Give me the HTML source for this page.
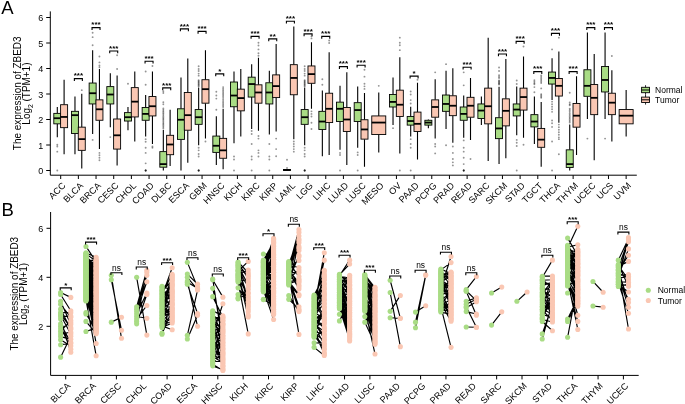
<!DOCTYPE html>
<html><head><meta charset="utf-8"><title>ZBED3 expression</title>
<style>
html,body{margin:0;padding:0;background:#fff;}
svg{display:block;}
text{font-family:"Liberation Sans",Arial,sans-serif;fill:#000;}
.b{font-weight:bold;}
</style></head><body>
<svg width="685" height="404" viewBox="0 0 685 404">
<rect width="685" height="404" fill="#fff"/>
<g id="panelA">
<circle cx="57.30" cy="144.75" r="0.95" fill="#000" fill-opacity="0.42"/><circle cx="57.30" cy="146.53" r="0.95" fill="#000" fill-opacity="0.42"/><circle cx="57.30" cy="151.63" r="0.95" fill="#000" fill-opacity="0.42"/><circle cx="57.30" cy="170.50" r="0.95" fill="#000" fill-opacity="0.42"/><path d="M57.30 107.00V113.38M57.30 123.84V137.35" stroke="#000" stroke-width="1.1" fill="none"/><rect x="53.80" y="113.38" width="7.00" height="10.46" fill="#A9DC85" stroke="#000" stroke-width="0.9"/><path d="M53.80 118.22H60.80" stroke="#000" stroke-width="1.8" fill="none"/>
<path d="M64.10 79.72V104.71M64.10 127.66V154.18" stroke="#000" stroke-width="1.1" fill="none"/><rect x="60.60" y="104.71" width="7.00" height="22.95" fill="#FAC7B3" stroke="#000" stroke-width="0.9"/><path d="M60.60 116.95H67.60" stroke="#000" stroke-width="1.8" fill="none"/>
<path d="M74.97 96.55V111.34M74.97 133.53V154.18" stroke="#000" stroke-width="1.1" fill="none"/><rect x="71.47" y="111.34" width="7.00" height="22.19" fill="#A9DC85" stroke="#000" stroke-width="0.9"/><path d="M71.47 115.16H78.47" stroke="#000" stroke-width="1.8" fill="none"/>
<circle cx="81.77" cy="90.17" r="0.95" fill="#000" fill-opacity="0.42"/><path d="M81.77 93.75V127.15M81.77 150.35V168.46" stroke="#000" stroke-width="1.1" fill="none"/><rect x="78.27" y="127.15" width="7.00" height="23.20" fill="#FAC7B3" stroke="#000" stroke-width="0.9"/><path d="M78.27 139.13H85.27" stroke="#000" stroke-width="1.8" fill="none"/>
<path d="M74.37 80.90V78.60H82.37V80.90" stroke="#000" stroke-width="1.1" fill="none"/>
<text x="78.37" y="78.40" text-anchor="middle" font-size="8" class="b">***</text>
<circle cx="92.64" cy="45.30" r="0.95" fill="#000" fill-opacity="0.42"/><circle cx="92.64" cy="37.13" r="0.95" fill="#000" fill-opacity="0.42"/><circle cx="92.64" cy="32.80" r="0.95" fill="#000" fill-opacity="0.42"/><circle cx="92.64" cy="139.90" r="0.95" fill="#000" fill-opacity="0.42"/><path d="M92.64 50.14V83.03M92.64 103.95V134.03" stroke="#000" stroke-width="1.1" fill="none"/><rect x="89.14" y="83.03" width="7.00" height="20.91" fill="#A9DC85" stroke="#000" stroke-width="0.9"/><path d="M89.14 93.23H96.14" stroke="#000" stroke-width="1.8" fill="none"/>
<circle cx="99.44" cy="56.52" r="0.95" fill="#000" fill-opacity="0.42"/><circle cx="99.44" cy="62.38" r="0.95" fill="#000" fill-opacity="0.42"/><circle cx="99.44" cy="65.44" r="0.95" fill="#000" fill-opacity="0.42"/><circle cx="99.44" cy="67.23" r="0.95" fill="#000" fill-opacity="0.42"/><circle cx="99.44" cy="152.91" r="0.95" fill="#000" fill-opacity="0.42"/><circle cx="99.44" cy="155.20" r="0.95" fill="#000" fill-opacity="0.42"/><circle cx="99.44" cy="157.75" r="0.95" fill="#000" fill-opacity="0.42"/><circle cx="99.44" cy="160.30" r="0.95" fill="#000" fill-opacity="0.42"/><path d="M99.44 69.01V99.86M99.44 120.27V149.08" stroke="#000" stroke-width="1.1" fill="none"/><rect x="95.94" y="99.86" width="7.00" height="20.40" fill="#FAC7B3" stroke="#000" stroke-width="0.9"/><path d="M95.94 109.30H102.94" stroke="#000" stroke-width="1.8" fill="none"/>
<path d="M92.04 29.90V27.60H100.04V29.90" stroke="#000" stroke-width="1.1" fill="none"/>
<text x="96.04" y="27.40" text-anchor="middle" font-size="8" class="b">***</text>
<circle cx="110.31" cy="137.09" r="0.95" fill="#000" fill-opacity="0.42"/><path d="M110.31 73.34V86.61M110.31 103.95V127.15" stroke="#000" stroke-width="1.1" fill="none"/><rect x="106.81" y="86.61" width="7.00" height="17.34" fill="#A9DC85" stroke="#000" stroke-width="0.9"/><path d="M106.81 94.51H113.81" stroke="#000" stroke-width="1.8" fill="none"/>
<circle cx="117.11" cy="69.01" r="0.95" fill="#000" fill-opacity="0.42"/><circle cx="117.11" cy="55.24" r="0.95" fill="#000" fill-opacity="0.42"/><path d="M117.11 75.39V118.99M117.11 149.08V165.40" stroke="#000" stroke-width="1.1" fill="none"/><rect x="113.61" y="118.99" width="7.00" height="30.09" fill="#FAC7B3" stroke="#000" stroke-width="0.9"/><path d="M113.61 135.31H120.61" stroke="#000" stroke-width="1.8" fill="none"/>
<path d="M109.71 53.30V51.00H117.71V53.30" stroke="#000" stroke-width="1.1" fill="none"/>
<text x="113.71" y="50.80" text-anchor="middle" font-size="8" class="b">***</text>
<circle cx="127.98" cy="83.80" r="0.95" fill="#000" fill-opacity="0.42"/><path d="M127.98 107.00V112.62M127.98 121.03V130.21" stroke="#000" stroke-width="1.1" fill="none"/><rect x="124.48" y="112.62" width="7.00" height="8.41" fill="#A9DC85" stroke="#000" stroke-width="0.9"/><path d="M124.48 117.21H131.48" stroke="#000" stroke-width="1.8" fill="none"/>
<path d="M134.78 71.56V87.62M134.78 116.95V141.43" stroke="#000" stroke-width="1.1" fill="none"/><rect x="131.28" y="87.62" width="7.00" height="29.32" fill="#FAC7B3" stroke="#000" stroke-width="0.9"/><path d="M131.28 101.65H138.28" stroke="#000" stroke-width="1.8" fill="none"/>
<circle cx="145.65" cy="71.56" r="0.95" fill="#000" fill-opacity="0.42"/><circle cx="145.65" cy="84.82" r="0.95" fill="#000" fill-opacity="0.42"/><circle cx="145.65" cy="139.13" r="0.95" fill="#000" fill-opacity="0.42"/><circle cx="145.65" cy="141.69" r="0.95" fill="#000" fill-opacity="0.42"/><circle cx="145.65" cy="147.81" r="0.95" fill="#000" fill-opacity="0.42"/><circle cx="145.65" cy="152.91" r="0.95" fill="#000" fill-opacity="0.42"/><circle cx="145.65" cy="163.36" r="0.95" fill="#000" fill-opacity="0.42"/><circle cx="145.65" cy="170.50" r="0.95" fill="#000" fill-opacity="0.42"/><circle cx="145.65" cy="170.50" r="0.95" fill="#000" fill-opacity="0.42"/><circle cx="145.65" cy="170.50" r="0.95" fill="#000" fill-opacity="0.42"/><circle cx="145.65" cy="170.50" r="0.95" fill="#000" fill-opacity="0.42"/><path d="M145.65 95.02V107.51M145.65 120.27V136.59" stroke="#000" stroke-width="1.1" fill="none"/><rect x="142.15" y="107.51" width="7.00" height="12.75" fill="#A9DC85" stroke="#000" stroke-width="0.9"/><path d="M142.15 113.89H149.15" stroke="#000" stroke-width="1.8" fill="none"/>
<circle cx="152.45" cy="65.95" r="0.95" fill="#000" fill-opacity="0.42"/><circle cx="152.45" cy="146.53" r="0.95" fill="#000" fill-opacity="0.42"/><circle cx="152.45" cy="147.81" r="0.95" fill="#000" fill-opacity="0.42"/><path d="M152.45 71.56V96.55M152.45 115.93V143.98" stroke="#000" stroke-width="1.1" fill="none"/><rect x="148.95" y="96.55" width="7.00" height="19.38" fill="#FAC7B3" stroke="#000" stroke-width="0.9"/><path d="M148.95 106.24H155.95" stroke="#000" stroke-width="1.8" fill="none"/>
<path d="M145.05 63.60V61.30H153.05V63.60" stroke="#000" stroke-width="1.1" fill="none"/>
<text x="149.05" y="61.10" text-anchor="middle" font-size="8" class="b">***</text>
<circle cx="163.32" cy="128.17" r="0.95" fill="#000" fill-opacity="0.42"/><circle cx="163.32" cy="126.86" r="0.95" fill="#000" fill-opacity="0.42"/><circle cx="163.32" cy="125.55" r="0.95" fill="#000" fill-opacity="0.42"/><circle cx="163.32" cy="124.24" r="0.95" fill="#000" fill-opacity="0.42"/><circle cx="163.32" cy="122.93" r="0.95" fill="#000" fill-opacity="0.42"/><circle cx="163.32" cy="121.62" r="0.95" fill="#000" fill-opacity="0.42"/><circle cx="163.32" cy="120.32" r="0.95" fill="#000" fill-opacity="0.42"/><circle cx="163.32" cy="119.01" r="0.95" fill="#000" fill-opacity="0.42"/><circle cx="163.32" cy="117.70" r="0.95" fill="#000" fill-opacity="0.42"/><circle cx="163.32" cy="116.39" r="0.95" fill="#000" fill-opacity="0.42"/><circle cx="163.32" cy="115.08" r="0.95" fill="#000" fill-opacity="0.42"/><circle cx="163.32" cy="113.77" r="0.95" fill="#000" fill-opacity="0.42"/><circle cx="163.32" cy="112.46" r="0.95" fill="#000" fill-opacity="0.42"/><circle cx="163.32" cy="111.15" r="0.95" fill="#000" fill-opacity="0.42"/><circle cx="163.32" cy="109.84" r="0.95" fill="#000" fill-opacity="0.42"/><circle cx="163.32" cy="108.53" r="0.95" fill="#000" fill-opacity="0.42"/><circle cx="163.32" cy="104.20" r="0.95" fill="#000" fill-opacity="0.42"/><circle cx="163.32" cy="102.16" r="0.95" fill="#000" fill-opacity="0.42"/><circle cx="163.32" cy="92.98" r="0.95" fill="#000" fill-opacity="0.42"/><circle cx="163.32" cy="91.20" r="0.95" fill="#000" fill-opacity="0.42"/><path d="M163.32 129.70V151.63M163.32 167.19V170.50" stroke="#000" stroke-width="1.1" fill="none"/><rect x="159.82" y="151.63" width="7.00" height="15.56" fill="#A9DC85" stroke="#000" stroke-width="0.9"/><path d="M159.82 164.12H166.82" stroke="#000" stroke-width="1.8" fill="none"/>
<path d="M170.12 109.81V135.31M170.12 154.69V165.91" stroke="#000" stroke-width="1.1" fill="none"/><rect x="166.62" y="135.31" width="7.00" height="19.38" fill="#FAC7B3" stroke="#000" stroke-width="0.9"/><path d="M166.62 144.49H173.62" stroke="#000" stroke-width="1.8" fill="none"/>
<path d="M162.72 90.20V87.90H170.72V90.20" stroke="#000" stroke-width="1.1" fill="none"/>
<text x="166.72" y="87.70" text-anchor="middle" font-size="8" class="b">***</text>
<path d="M180.99 77.42V108.79M180.99 139.39V170.50" stroke="#000" stroke-width="1.1" fill="none"/><rect x="177.49" y="108.79" width="7.00" height="30.60" fill="#A9DC85" stroke="#000" stroke-width="0.9"/><path d="M177.49 119.75H184.49" stroke="#000" stroke-width="1.8" fill="none"/>
<path d="M187.79 58.56V92.47M187.79 130.21V162.85" stroke="#000" stroke-width="1.1" fill="none"/><rect x="184.29" y="92.47" width="7.00" height="37.74" fill="#FAC7B3" stroke="#000" stroke-width="0.9"/><path d="M184.29 115.16H191.29" stroke="#000" stroke-width="1.8" fill="none"/>
<path d="M180.39 31.20V28.90H188.39V31.20" stroke="#000" stroke-width="1.1" fill="none"/>
<text x="184.39" y="28.70" text-anchor="middle" font-size="8" class="b">***</text>
<circle cx="198.66" cy="86.35" r="0.95" fill="#000" fill-opacity="0.42"/><circle cx="198.66" cy="85.48" r="0.95" fill="#000" fill-opacity="0.42"/><circle cx="198.66" cy="84.60" r="0.95" fill="#000" fill-opacity="0.42"/><circle cx="198.66" cy="83.73" r="0.95" fill="#000" fill-opacity="0.42"/><circle cx="198.66" cy="82.85" r="0.95" fill="#000" fill-opacity="0.42"/><circle cx="198.66" cy="81.98" r="0.95" fill="#000" fill-opacity="0.42"/><circle cx="198.66" cy="81.10" r="0.95" fill="#000" fill-opacity="0.42"/><circle cx="198.66" cy="80.23" r="0.95" fill="#000" fill-opacity="0.42"/><circle cx="198.66" cy="75.64" r="0.95" fill="#000" fill-opacity="0.42"/><circle cx="198.66" cy="73.60" r="0.95" fill="#000" fill-opacity="0.42"/><circle cx="198.66" cy="71.05" r="0.95" fill="#000" fill-opacity="0.42"/><circle cx="198.66" cy="69.01" r="0.95" fill="#000" fill-opacity="0.42"/><circle cx="198.66" cy="66.20" r="0.95" fill="#000" fill-opacity="0.42"/><circle cx="198.66" cy="147.81" r="0.95" fill="#000" fill-opacity="0.42"/><circle cx="198.66" cy="150.35" r="0.95" fill="#000" fill-opacity="0.42"/><circle cx="198.66" cy="153.93" r="0.95" fill="#000" fill-opacity="0.42"/><circle cx="198.66" cy="156.47" r="0.95" fill="#000" fill-opacity="0.42"/><circle cx="198.66" cy="170.50" r="0.95" fill="#000" fill-opacity="0.42"/><circle cx="198.66" cy="170.50" r="0.95" fill="#000" fill-opacity="0.42"/><circle cx="198.66" cy="170.50" r="0.95" fill="#000" fill-opacity="0.42"/><circle cx="198.66" cy="170.50" r="0.95" fill="#000" fill-opacity="0.42"/><path d="M198.66 87.62V109.56M198.66 124.34V145.25" stroke="#000" stroke-width="1.1" fill="none"/><rect x="195.16" y="109.56" width="7.00" height="14.79" fill="#A9DC85" stroke="#000" stroke-width="0.9"/><path d="M195.16 117.21H202.16" stroke="#000" stroke-width="1.8" fill="none"/>
<circle cx="205.46" cy="141.43" r="0.95" fill="#000" fill-opacity="0.42"/><path d="M205.46 50.14V79.72M205.46 103.18V138.62" stroke="#000" stroke-width="1.1" fill="none"/><rect x="201.96" y="79.72" width="7.00" height="23.46" fill="#FAC7B3" stroke="#000" stroke-width="0.9"/><path d="M201.96 89.16H208.96" stroke="#000" stroke-width="1.8" fill="none"/>
<path d="M198.06 33.70V31.40H206.06V33.70" stroke="#000" stroke-width="1.1" fill="none"/>
<text x="202.06" y="31.20" text-anchor="middle" font-size="8" class="b">***</text>
<circle cx="216.33" cy="109.81" r="0.95" fill="#000" fill-opacity="0.42"/><circle cx="216.33" cy="98.59" r="0.95" fill="#000" fill-opacity="0.42"/><circle cx="216.33" cy="95.53" r="0.95" fill="#000" fill-opacity="0.42"/><circle cx="216.33" cy="91.70" r="0.95" fill="#000" fill-opacity="0.42"/><path d="M216.33 116.19V136.07M216.33 152.40V164.89" stroke="#000" stroke-width="1.1" fill="none"/><rect x="212.83" y="136.07" width="7.00" height="16.32" fill="#A9DC85" stroke="#000" stroke-width="0.9"/><path d="M212.83 145.76H219.83" stroke="#000" stroke-width="1.8" fill="none"/>
<circle cx="223.13" cy="107.00" r="0.95" fill="#000" fill-opacity="0.42"/><circle cx="223.13" cy="105.47" r="0.95" fill="#000" fill-opacity="0.42"/><circle cx="223.13" cy="103.94" r="0.95" fill="#000" fill-opacity="0.42"/><circle cx="223.13" cy="102.41" r="0.95" fill="#000" fill-opacity="0.42"/><circle cx="223.13" cy="100.89" r="0.95" fill="#000" fill-opacity="0.42"/><circle cx="223.13" cy="99.36" r="0.95" fill="#000" fill-opacity="0.42"/><circle cx="223.13" cy="97.83" r="0.95" fill="#000" fill-opacity="0.42"/><circle cx="223.13" cy="96.30" r="0.95" fill="#000" fill-opacity="0.42"/><circle cx="223.13" cy="94.77" r="0.95" fill="#000" fill-opacity="0.42"/><circle cx="223.13" cy="93.23" r="0.95" fill="#000" fill-opacity="0.42"/><circle cx="223.13" cy="91.70" r="0.95" fill="#000" fill-opacity="0.42"/><circle cx="223.13" cy="90.17" r="0.95" fill="#000" fill-opacity="0.42"/><circle cx="223.13" cy="88.64" r="0.95" fill="#000" fill-opacity="0.42"/><circle cx="223.13" cy="87.11" r="0.95" fill="#000" fill-opacity="0.42"/><path d="M223.13 108.79V138.37M223.13 158.26V169.22" stroke="#000" stroke-width="1.1" fill="none"/><rect x="219.63" y="138.37" width="7.00" height="19.89" fill="#FAC7B3" stroke="#000" stroke-width="0.9"/><path d="M219.63 150.35H226.63" stroke="#000" stroke-width="1.8" fill="none"/>
<path d="M215.73 76.20V73.90H223.73V76.20" stroke="#000" stroke-width="1.1" fill="none"/>
<text x="219.73" y="73.70" text-anchor="middle" font-size="8" class="b">*</text>
<circle cx="234.00" cy="156.47" r="0.95" fill="#000" fill-opacity="0.42"/><circle cx="234.00" cy="159.53" r="0.95" fill="#000" fill-opacity="0.42"/><circle cx="234.00" cy="170.50" r="0.95" fill="#000" fill-opacity="0.42"/><path d="M234.00 71.56V82.02M234.00 106.75V143.22" stroke="#000" stroke-width="1.1" fill="none"/><rect x="230.50" y="82.02" width="7.00" height="24.73" fill="#A9DC85" stroke="#000" stroke-width="0.9"/><path d="M230.50 95.53H237.50" stroke="#000" stroke-width="1.8" fill="none"/>
<path d="M240.80 69.01V89.16M240.80 110.83V136.59" stroke="#000" stroke-width="1.1" fill="none"/><rect x="237.30" y="89.16" width="7.00" height="21.68" fill="#FAC7B3" stroke="#000" stroke-width="0.9"/><path d="M237.30 98.08H244.30" stroke="#000" stroke-width="1.8" fill="none"/>
<circle cx="251.67" cy="130.97" r="0.95" fill="#000" fill-opacity="0.42"/><circle cx="251.67" cy="134.03" r="0.95" fill="#000" fill-opacity="0.42"/><circle cx="251.67" cy="143.98" r="0.95" fill="#000" fill-opacity="0.42"/><circle cx="251.67" cy="156.47" r="0.95" fill="#000" fill-opacity="0.42"/><circle cx="251.67" cy="159.53" r="0.95" fill="#000" fill-opacity="0.42"/><circle cx="251.67" cy="170.50" r="0.95" fill="#000" fill-opacity="0.42"/><path d="M251.67 64.17V77.17M251.67 97.06V128.94" stroke="#000" stroke-width="1.1" fill="none"/><rect x="248.17" y="77.17" width="7.00" height="19.89" fill="#A9DC85" stroke="#000" stroke-width="0.9"/><path d="M248.17 84.05H255.17" stroke="#000" stroke-width="1.8" fill="none"/>
<circle cx="258.47" cy="42.75" r="0.95" fill="#000" fill-opacity="0.42"/><circle cx="258.47" cy="45.55" r="0.95" fill="#000" fill-opacity="0.42"/><circle cx="258.47" cy="49.38" r="0.95" fill="#000" fill-opacity="0.42"/><circle cx="258.47" cy="53.20" r="0.95" fill="#000" fill-opacity="0.42"/><circle cx="258.47" cy="55.75" r="0.95" fill="#000" fill-opacity="0.42"/><circle cx="258.47" cy="136.07" r="0.95" fill="#000" fill-opacity="0.42"/><circle cx="258.47" cy="138.62" r="0.95" fill="#000" fill-opacity="0.42"/><circle cx="258.47" cy="150.35" r="0.95" fill="#000" fill-opacity="0.42"/><circle cx="258.47" cy="152.91" r="0.95" fill="#000" fill-opacity="0.42"/><circle cx="258.47" cy="156.47" r="0.95" fill="#000" fill-opacity="0.42"/><path d="M258.47 57.79V84.82M258.47 103.18V130.72" stroke="#000" stroke-width="1.1" fill="none"/><rect x="254.97" y="84.82" width="7.00" height="18.36" fill="#FAC7B3" stroke="#000" stroke-width="0.9"/><path d="M254.97 92.47H261.97" stroke="#000" stroke-width="1.8" fill="none"/>
<path d="M251.07 38.70V36.40H259.07V38.70" stroke="#000" stroke-width="1.1" fill="none"/>
<text x="255.07" y="36.20" text-anchor="middle" font-size="8" class="b">***</text>
<circle cx="269.34" cy="143.98" r="0.95" fill="#000" fill-opacity="0.42"/><circle cx="269.34" cy="156.47" r="0.95" fill="#000" fill-opacity="0.42"/><circle cx="269.34" cy="159.53" r="0.95" fill="#000" fill-opacity="0.42"/><circle cx="269.34" cy="170.50" r="0.95" fill="#000" fill-opacity="0.42"/><path d="M269.34 70.80V82.78M269.34 103.95V134.55" stroke="#000" stroke-width="1.1" fill="none"/><rect x="265.84" y="82.78" width="7.00" height="21.17" fill="#A9DC85" stroke="#000" stroke-width="0.9"/><path d="M265.84 92.47H272.84" stroke="#000" stroke-width="1.8" fill="none"/>
<circle cx="276.14" cy="138.62" r="0.95" fill="#000" fill-opacity="0.42"/><circle cx="276.14" cy="149.08" r="0.95" fill="#000" fill-opacity="0.42"/><circle cx="276.14" cy="156.22" r="0.95" fill="#000" fill-opacity="0.42"/><path d="M276.14 44.02V74.88M276.14 97.57V131.49" stroke="#000" stroke-width="1.1" fill="none"/><rect x="272.64" y="74.88" width="7.00" height="22.70" fill="#FAC7B3" stroke="#000" stroke-width="0.9"/><path d="M272.64 86.09H279.64" stroke="#000" stroke-width="1.8" fill="none"/>
<path d="M268.74 41.20V38.90H276.74V41.20" stroke="#000" stroke-width="1.1" fill="none"/>
<text x="272.74" y="38.70" text-anchor="middle" font-size="8" class="b">**</text>
<circle cx="287.01" cy="159.79" r="0.95" fill="#000" fill-opacity="0.42"/><circle cx="287.01" cy="167.95" r="0.95" fill="#000" fill-opacity="0.42"/><path d="M287.01 169.22V169.48M287.01 170.50V170.50" stroke="#000" stroke-width="1.1" fill="none"/><rect x="283.51" y="169.48" width="7.00" height="1.02" fill="#A9DC85" stroke="#000" stroke-width="0.9"/><path d="M283.51 169.99H290.51" stroke="#000" stroke-width="1.8" fill="none"/>
<circle cx="293.81" cy="141.43" r="0.95" fill="#000" fill-opacity="0.42"/><circle cx="293.81" cy="143.98" r="0.95" fill="#000" fill-opacity="0.42"/><circle cx="293.81" cy="146.53" r="0.95" fill="#000" fill-opacity="0.42"/><circle cx="293.81" cy="149.08" r="0.95" fill="#000" fill-opacity="0.42"/><circle cx="293.81" cy="151.63" r="0.95" fill="#000" fill-opacity="0.42"/><path d="M293.81 26.42V64.67M293.81 94.77V139.13" stroke="#000" stroke-width="1.1" fill="none"/><rect x="290.31" y="64.67" width="7.00" height="30.09" fill="#FAC7B3" stroke="#000" stroke-width="0.9"/><path d="M290.31 77.94H297.31" stroke="#000" stroke-width="1.8" fill="none"/>
<path d="M286.41 23.60V21.30H294.41V23.60" stroke="#000" stroke-width="1.1" fill="none"/>
<text x="290.41" y="21.10" text-anchor="middle" font-size="8" class="b">***</text>
<circle cx="304.68" cy="86.35" r="0.95" fill="#000" fill-opacity="0.42"/><circle cx="304.68" cy="85.48" r="0.95" fill="#000" fill-opacity="0.42"/><circle cx="304.68" cy="84.60" r="0.95" fill="#000" fill-opacity="0.42"/><circle cx="304.68" cy="83.73" r="0.95" fill="#000" fill-opacity="0.42"/><circle cx="304.68" cy="82.85" r="0.95" fill="#000" fill-opacity="0.42"/><circle cx="304.68" cy="81.98" r="0.95" fill="#000" fill-opacity="0.42"/><circle cx="304.68" cy="81.10" r="0.95" fill="#000" fill-opacity="0.42"/><circle cx="304.68" cy="80.23" r="0.95" fill="#000" fill-opacity="0.42"/><circle cx="304.68" cy="75.64" r="0.95" fill="#000" fill-opacity="0.42"/><circle cx="304.68" cy="73.60" r="0.95" fill="#000" fill-opacity="0.42"/><circle cx="304.68" cy="71.05" r="0.95" fill="#000" fill-opacity="0.42"/><circle cx="304.68" cy="69.01" r="0.95" fill="#000" fill-opacity="0.42"/><circle cx="304.68" cy="66.20" r="0.95" fill="#000" fill-opacity="0.42"/><circle cx="304.68" cy="147.81" r="0.95" fill="#000" fill-opacity="0.42"/><circle cx="304.68" cy="150.35" r="0.95" fill="#000" fill-opacity="0.42"/><circle cx="304.68" cy="153.93" r="0.95" fill="#000" fill-opacity="0.42"/><circle cx="304.68" cy="156.47" r="0.95" fill="#000" fill-opacity="0.42"/><circle cx="304.68" cy="170.50" r="0.95" fill="#000" fill-opacity="0.42"/><circle cx="304.68" cy="170.50" r="0.95" fill="#000" fill-opacity="0.42"/><circle cx="304.68" cy="170.50" r="0.95" fill="#000" fill-opacity="0.42"/><circle cx="304.68" cy="170.50" r="0.95" fill="#000" fill-opacity="0.42"/><path d="M304.68 87.62V109.56M304.68 124.34V145.25" stroke="#000" stroke-width="1.1" fill="none"/><rect x="301.18" y="109.56" width="7.00" height="14.79" fill="#A9DC85" stroke="#000" stroke-width="0.9"/><path d="M301.18 117.21H308.18" stroke="#000" stroke-width="1.8" fill="none"/>
<circle cx="311.48" cy="36.37" r="0.95" fill="#000" fill-opacity="0.42"/><circle cx="311.48" cy="38.41" r="0.95" fill="#000" fill-opacity="0.42"/><circle cx="311.48" cy="111.34" r="0.95" fill="#000" fill-opacity="0.42"/><circle cx="311.48" cy="113.89" r="0.95" fill="#000" fill-opacity="0.42"/><circle cx="311.48" cy="116.44" r="0.95" fill="#000" fill-opacity="0.42"/><circle cx="311.48" cy="122.81" r="0.95" fill="#000" fill-opacity="0.42"/><circle cx="311.48" cy="128.94" r="0.95" fill="#000" fill-opacity="0.42"/><path d="M311.48 42.23V65.95M311.48 83.29V108.79" stroke="#000" stroke-width="1.1" fill="none"/><rect x="307.98" y="65.95" width="7.00" height="17.34" fill="#FAC7B3" stroke="#000" stroke-width="0.9"/><path d="M307.98 74.11H314.98" stroke="#000" stroke-width="1.8" fill="none"/>
<path d="M304.08 36.20V33.90H312.08V36.20" stroke="#000" stroke-width="1.1" fill="none"/>
<text x="308.08" y="33.70" text-anchor="middle" font-size="8" class="b">***</text>
<circle cx="322.35" cy="79.21" r="0.95" fill="#000" fill-opacity="0.42"/><circle cx="322.35" cy="84.82" r="0.95" fill="#000" fill-opacity="0.42"/><path d="M322.35 90.43V111.34M322.35 129.44V156.22" stroke="#000" stroke-width="1.1" fill="none"/><rect x="318.85" y="111.34" width="7.00" height="18.10" fill="#A9DC85" stroke="#000" stroke-width="0.9"/><path d="M318.85 121.54H325.85" stroke="#000" stroke-width="1.8" fill="none"/>
<circle cx="329.15" cy="40.45" r="0.95" fill="#000" fill-opacity="0.42"/><circle cx="329.15" cy="43.00" r="0.95" fill="#000" fill-opacity="0.42"/><path d="M329.15 52.18V93.23M329.15 122.56V154.94" stroke="#000" stroke-width="1.1" fill="none"/><rect x="325.65" y="93.23" width="7.00" height="29.33" fill="#FAC7B3" stroke="#000" stroke-width="0.9"/><path d="M325.65 108.79H332.65" stroke="#000" stroke-width="1.8" fill="none"/>
<path d="M321.75 38.70V36.40H329.75V38.70" stroke="#000" stroke-width="1.1" fill="none"/>
<text x="325.75" y="36.20" text-anchor="middle" font-size="8" class="b">***</text>
<circle cx="340.02" cy="152.91" r="0.95" fill="#000" fill-opacity="0.42"/><circle cx="340.02" cy="154.94" r="0.95" fill="#000" fill-opacity="0.42"/><circle cx="340.02" cy="170.50" r="0.95" fill="#000" fill-opacity="0.42"/><path d="M340.02 85.84V102.16M340.02 121.54V149.84" stroke="#000" stroke-width="1.1" fill="none"/><rect x="336.52" y="102.16" width="7.00" height="19.38" fill="#A9DC85" stroke="#000" stroke-width="0.9"/><path d="M336.52 108.79H343.52" stroke="#000" stroke-width="1.8" fill="none"/>
<path d="M346.82 72.33V107.51M346.82 131.49V164.89" stroke="#000" stroke-width="1.1" fill="none"/><rect x="343.32" y="107.51" width="7.00" height="23.97" fill="#FAC7B3" stroke="#000" stroke-width="0.9"/><path d="M343.32 119.50H350.32" stroke="#000" stroke-width="1.8" fill="none"/>
<path d="M339.42 68.90V66.60H347.42V68.90" stroke="#000" stroke-width="1.1" fill="none"/>
<text x="343.42" y="66.40" text-anchor="middle" font-size="8" class="b">***</text>
<circle cx="357.69" cy="152.40" r="0.95" fill="#000" fill-opacity="0.42"/><circle cx="357.69" cy="154.94" r="0.95" fill="#000" fill-opacity="0.42"/><circle cx="357.69" cy="170.50" r="0.95" fill="#000" fill-opacity="0.42"/><path d="M357.69 86.61V102.67M357.69 121.54V147.81" stroke="#000" stroke-width="1.1" fill="none"/><rect x="354.19" y="102.67" width="7.00" height="18.87" fill="#A9DC85" stroke="#000" stroke-width="0.9"/><path d="M354.19 110.06H361.19" stroke="#000" stroke-width="1.8" fill="none"/>
<circle cx="364.49" cy="69.77" r="0.95" fill="#000" fill-opacity="0.42"/><circle cx="364.49" cy="76.66" r="0.95" fill="#000" fill-opacity="0.42"/><circle cx="364.49" cy="83.80" r="0.95" fill="#000" fill-opacity="0.42"/><circle cx="364.49" cy="86.35" r="0.95" fill="#000" fill-opacity="0.42"/><circle cx="364.49" cy="88.90" r="0.95" fill="#000" fill-opacity="0.42"/><path d="M364.49 92.98V119.75M364.49 139.13V166.68" stroke="#000" stroke-width="1.1" fill="none"/><rect x="360.99" y="119.75" width="7.00" height="19.38" fill="#FAC7B3" stroke="#000" stroke-width="0.9"/><path d="M360.99 129.44H367.99" stroke="#000" stroke-width="1.8" fill="none"/>
<path d="M357.09 67.60V65.30H365.09V67.60" stroke="#000" stroke-width="1.1" fill="none"/>
<text x="361.09" y="65.10" text-anchor="middle" font-size="8" class="b">***</text>
<circle cx="378.76" cy="85.84" r="0.95" fill="#000" fill-opacity="0.42"/><path d="M378.76 92.47V115.93M378.76 134.55V152.40" stroke="#000" stroke-width="1.1" fill="none"/><rect x="371.76" y="115.93" width="14.00" height="18.62" fill="#FAC7B3" stroke="#000" stroke-width="0.9"/><path d="M371.76 122.56H385.76" stroke="#000" stroke-width="1.8" fill="none"/>
<circle cx="393.03" cy="128.17" r="0.95" fill="#000" fill-opacity="0.42"/><path d="M393.03 77.42V94.51M393.03 107.00V125.11" stroke="#000" stroke-width="1.1" fill="none"/><rect x="389.53" y="94.51" width="7.00" height="12.49" fill="#A9DC85" stroke="#000" stroke-width="0.9"/><path d="M389.53 101.91H396.53" stroke="#000" stroke-width="1.8" fill="none"/>
<circle cx="399.83" cy="37.65" r="0.95" fill="#000" fill-opacity="0.42"/><circle cx="399.83" cy="42.75" r="0.95" fill="#000" fill-opacity="0.42"/><circle cx="399.83" cy="45.30" r="0.95" fill="#000" fill-opacity="0.42"/><circle cx="399.83" cy="50.14" r="0.95" fill="#000" fill-opacity="0.42"/><circle cx="399.83" cy="170.50" r="0.95" fill="#000" fill-opacity="0.42"/><path d="M399.83 57.28V90.17M399.83 116.44V153.41" stroke="#000" stroke-width="1.1" fill="none"/><rect x="396.33" y="90.17" width="7.00" height="26.27" fill="#FAC7B3" stroke="#000" stroke-width="0.9"/><path d="M396.33 104.71H403.33" stroke="#000" stroke-width="1.8" fill="none"/>
<circle cx="410.70" cy="91.45" r="0.95" fill="#000" fill-opacity="0.42"/><circle cx="410.70" cy="94.51" r="0.95" fill="#000" fill-opacity="0.42"/><circle cx="410.70" cy="100.12" r="0.95" fill="#000" fill-opacity="0.42"/><circle cx="410.70" cy="103.44" r="0.95" fill="#000" fill-opacity="0.42"/><circle cx="410.70" cy="139.13" r="0.95" fill="#000" fill-opacity="0.42"/><circle cx="410.70" cy="143.98" r="0.95" fill="#000" fill-opacity="0.42"/><circle cx="410.70" cy="147.81" r="0.95" fill="#000" fill-opacity="0.42"/><circle cx="410.70" cy="170.50" r="0.95" fill="#000" fill-opacity="0.42"/><path d="M410.70 106.75V116.44M410.70 125.11V136.59" stroke="#000" stroke-width="1.1" fill="none"/><rect x="407.20" y="116.44" width="7.00" height="8.67" fill="#A9DC85" stroke="#000" stroke-width="0.9"/><path d="M407.20 121.03H414.20" stroke="#000" stroke-width="1.8" fill="none"/>
<circle cx="417.50" cy="79.72" r="0.95" fill="#000" fill-opacity="0.42"/><path d="M417.50 82.78V112.10M417.50 131.49V159.53" stroke="#000" stroke-width="1.1" fill="none"/><rect x="414.00" y="112.10" width="7.00" height="19.38" fill="#FAC7B3" stroke="#000" stroke-width="0.9"/><path d="M414.00 123.84H421.00" stroke="#000" stroke-width="1.8" fill="none"/>
<path d="M410.10 78.40V76.10H418.10V78.40" stroke="#000" stroke-width="1.1" fill="none"/>
<text x="414.10" y="75.90" text-anchor="middle" font-size="8" class="b">*</text>
<path d="M428.37 119.50V120.27M428.37 125.11V128.17" stroke="#000" stroke-width="1.1" fill="none"/><rect x="424.87" y="120.27" width="7.00" height="4.84" fill="#A9DC85" stroke="#000" stroke-width="0.9"/><path d="M424.87 122.56H431.87" stroke="#000" stroke-width="1.8" fill="none"/>
<circle cx="435.17" cy="72.33" r="0.95" fill="#000" fill-opacity="0.42"/><circle cx="435.17" cy="143.98" r="0.95" fill="#000" fill-opacity="0.42"/><circle cx="435.17" cy="146.53" r="0.95" fill="#000" fill-opacity="0.42"/><circle cx="435.17" cy="153.41" r="0.95" fill="#000" fill-opacity="0.42"/><path d="M435.17 79.21V99.86M435.17 117.21V138.62" stroke="#000" stroke-width="1.1" fill="none"/><rect x="431.67" y="99.86" width="7.00" height="17.34" fill="#FAC7B3" stroke="#000" stroke-width="0.9"/><path d="M431.67 107.00H438.67" stroke="#000" stroke-width="1.8" fill="none"/>
<circle cx="446.04" cy="64.17" r="0.95" fill="#000" fill-opacity="0.42"/><circle cx="446.04" cy="145.25" r="0.95" fill="#000" fill-opacity="0.42"/><path d="M446.04 70.80V95.02M446.04 111.34V128.94" stroke="#000" stroke-width="1.1" fill="none"/><rect x="442.54" y="95.02" width="7.00" height="16.32" fill="#A9DC85" stroke="#000" stroke-width="0.9"/><path d="M442.54 103.95H449.54" stroke="#000" stroke-width="1.8" fill="none"/>
<circle cx="452.84" cy="146.53" r="0.95" fill="#000" fill-opacity="0.42"/><circle cx="452.84" cy="152.91" r="0.95" fill="#000" fill-opacity="0.42"/><circle cx="452.84" cy="159.03" r="0.95" fill="#000" fill-opacity="0.42"/><circle cx="452.84" cy="162.34" r="0.95" fill="#000" fill-opacity="0.42"/><circle cx="452.84" cy="165.40" r="0.95" fill="#000" fill-opacity="0.42"/><path d="M452.84 68.25V95.78M452.84 115.68V142.70" stroke="#000" stroke-width="1.1" fill="none"/><rect x="449.34" y="95.78" width="7.00" height="19.89" fill="#FAC7B3" stroke="#000" stroke-width="0.9"/><path d="M449.34 105.73H456.34" stroke="#000" stroke-width="1.8" fill="none"/>
<circle cx="463.71" cy="72.33" r="0.95" fill="#000" fill-opacity="0.42"/><circle cx="463.71" cy="85.33" r="0.95" fill="#000" fill-opacity="0.42"/><circle cx="463.71" cy="140.41" r="0.95" fill="#000" fill-opacity="0.42"/><circle cx="463.71" cy="147.81" r="0.95" fill="#000" fill-opacity="0.42"/><circle cx="463.71" cy="151.63" r="0.95" fill="#000" fill-opacity="0.42"/><circle cx="463.71" cy="157.75" r="0.95" fill="#000" fill-opacity="0.42"/><circle cx="463.71" cy="164.12" r="0.95" fill="#000" fill-opacity="0.42"/><circle cx="463.71" cy="170.50" r="0.95" fill="#000" fill-opacity="0.42"/><circle cx="463.71" cy="170.50" r="0.95" fill="#000" fill-opacity="0.42"/><circle cx="463.71" cy="170.50" r="0.95" fill="#000" fill-opacity="0.42"/><circle cx="463.71" cy="170.50" r="0.95" fill="#000" fill-opacity="0.42"/><path d="M463.71 95.53V107.00M463.71 120.27V137.86" stroke="#000" stroke-width="1.1" fill="none"/><rect x="460.21" y="107.00" width="7.00" height="13.26" fill="#A9DC85" stroke="#000" stroke-width="0.9"/><path d="M460.21 113.89H467.21" stroke="#000" stroke-width="1.8" fill="none"/>
<circle cx="470.51" cy="159.03" r="0.95" fill="#000" fill-opacity="0.42"/><path d="M470.51 77.94V97.31M470.51 117.21V139.90" stroke="#000" stroke-width="1.1" fill="none"/><rect x="467.01" y="97.31" width="7.00" height="19.89" fill="#FAC7B3" stroke="#000" stroke-width="0.9"/><path d="M467.01 105.73H474.01" stroke="#000" stroke-width="1.8" fill="none"/>
<path d="M463.11 69.60V67.30H471.11V69.60" stroke="#000" stroke-width="1.1" fill="none"/>
<text x="467.11" y="67.10" text-anchor="middle" font-size="8" class="b">***</text>
<path d="M481.38 96.55V103.95M481.38 118.48V125.11" stroke="#000" stroke-width="1.1" fill="none"/><rect x="477.88" y="103.95" width="7.00" height="14.53" fill="#A9DC85" stroke="#000" stroke-width="0.9"/><path d="M477.88 110.57H484.88" stroke="#000" stroke-width="1.8" fill="none"/>
<path d="M488.18 37.65V88.14M488.18 123.84V161.06" stroke="#000" stroke-width="1.1" fill="none"/><rect x="484.68" y="88.14" width="7.00" height="35.70" fill="#FAC7B3" stroke="#000" stroke-width="0.9"/><path d="M484.68 106.24H491.68" stroke="#000" stroke-width="1.8" fill="none"/>
<circle cx="499.05" cy="67.48" r="0.95" fill="#000" fill-opacity="0.42"/><circle cx="499.05" cy="71.05" r="0.95" fill="#000" fill-opacity="0.42"/><circle cx="499.05" cy="75.13" r="0.95" fill="#000" fill-opacity="0.42"/><circle cx="499.05" cy="76.66" r="0.95" fill="#000" fill-opacity="0.42"/><circle cx="499.05" cy="77.94" r="0.95" fill="#000" fill-opacity="0.42"/><circle cx="499.05" cy="84.56" r="0.95" fill="#000" fill-opacity="0.42"/><circle cx="499.05" cy="83.75" r="0.95" fill="#000" fill-opacity="0.42"/><circle cx="499.05" cy="82.93" r="0.95" fill="#000" fill-opacity="0.42"/><circle cx="499.05" cy="82.12" r="0.95" fill="#000" fill-opacity="0.42"/><circle cx="499.05" cy="81.30" r="0.95" fill="#000" fill-opacity="0.42"/><circle cx="499.05" cy="80.48" r="0.95" fill="#000" fill-opacity="0.42"/><path d="M499.05 86.86V117.72M499.05 138.62V164.12" stroke="#000" stroke-width="1.1" fill="none"/><rect x="495.55" y="117.72" width="7.00" height="20.91" fill="#A9DC85" stroke="#000" stroke-width="0.9"/><path d="M495.55 128.43H502.55" stroke="#000" stroke-width="1.8" fill="none"/>
<path d="M505.85 59.06V98.84M505.85 125.88V158.26" stroke="#000" stroke-width="1.1" fill="none"/><rect x="502.35" y="98.84" width="7.00" height="27.03" fill="#FAC7B3" stroke="#000" stroke-width="0.9"/><path d="M502.35 110.83H509.35" stroke="#000" stroke-width="1.8" fill="none"/>
<path d="M498.45 56.30V54.00H506.45V56.30" stroke="#000" stroke-width="1.1" fill="none"/>
<text x="502.45" y="53.80" text-anchor="middle" font-size="8" class="b">***</text>
<circle cx="516.72" cy="80.48" r="0.95" fill="#000" fill-opacity="0.42"/><circle cx="516.72" cy="84.05" r="0.95" fill="#000" fill-opacity="0.42"/><circle cx="516.72" cy="139.90" r="0.95" fill="#000" fill-opacity="0.42"/><circle cx="516.72" cy="142.70" r="0.95" fill="#000" fill-opacity="0.42"/><circle cx="516.72" cy="146.02" r="0.95" fill="#000" fill-opacity="0.42"/><circle cx="516.72" cy="170.50" r="0.95" fill="#000" fill-opacity="0.42"/><path d="M516.72 86.61V103.95M516.72 115.93V135.31" stroke="#000" stroke-width="1.1" fill="none"/><rect x="513.22" y="103.95" width="7.00" height="11.98" fill="#A9DC85" stroke="#000" stroke-width="0.9"/><path d="M513.22 109.56H520.22" stroke="#000" stroke-width="1.8" fill="none"/>
<circle cx="523.52" cy="46.57" r="0.95" fill="#000" fill-opacity="0.42"/><circle cx="523.52" cy="144.75" r="0.95" fill="#000" fill-opacity="0.42"/><path d="M523.52 56.52V88.14M523.52 110.06V137.86" stroke="#000" stroke-width="1.1" fill="none"/><rect x="520.02" y="88.14" width="7.00" height="21.93" fill="#FAC7B3" stroke="#000" stroke-width="0.9"/><path d="M520.02 97.06H527.02" stroke="#000" stroke-width="1.8" fill="none"/>
<path d="M516.12 43.70V41.40H524.12V43.70" stroke="#000" stroke-width="1.1" fill="none"/>
<text x="520.12" y="41.20" text-anchor="middle" font-size="8" class="b">***</text>
<circle cx="534.39" cy="80.23" r="0.95" fill="#000" fill-opacity="0.42"/><circle cx="534.39" cy="81.76" r="0.95" fill="#000" fill-opacity="0.42"/><circle cx="534.39" cy="83.29" r="0.95" fill="#000" fill-opacity="0.42"/><circle cx="534.39" cy="84.31" r="0.95" fill="#000" fill-opacity="0.42"/><circle cx="534.39" cy="87.11" r="0.95" fill="#000" fill-opacity="0.42"/><circle cx="534.39" cy="92.22" r="0.95" fill="#000" fill-opacity="0.42"/><path d="M534.39 96.55V114.66M534.39 126.90V143.98" stroke="#000" stroke-width="1.1" fill="none"/><rect x="530.89" y="114.66" width="7.00" height="12.24" fill="#A9DC85" stroke="#000" stroke-width="0.9"/><path d="M530.89 121.54H537.89" stroke="#000" stroke-width="1.8" fill="none"/>
<circle cx="541.19" cy="83.03" r="0.95" fill="#000" fill-opacity="0.42"/><circle cx="541.19" cy="81.50" r="0.95" fill="#000" fill-opacity="0.42"/><circle cx="541.19" cy="79.97" r="0.95" fill="#000" fill-opacity="0.42"/><circle cx="541.19" cy="78.45" r="0.95" fill="#000" fill-opacity="0.42"/><circle cx="541.19" cy="76.92" r="0.95" fill="#000" fill-opacity="0.42"/><circle cx="541.19" cy="75.39" r="0.95" fill="#000" fill-opacity="0.42"/><circle cx="541.19" cy="88.39" r="0.95" fill="#000" fill-opacity="0.42"/><circle cx="541.19" cy="94.25" r="0.95" fill="#000" fill-opacity="0.42"/><circle cx="541.19" cy="95.53" r="0.95" fill="#000" fill-opacity="0.42"/><circle cx="541.19" cy="96.80" r="0.95" fill="#000" fill-opacity="0.42"/><circle cx="541.19" cy="97.83" r="0.95" fill="#000" fill-opacity="0.42"/><path d="M541.19 101.91V128.43M541.19 147.29V166.68" stroke="#000" stroke-width="1.1" fill="none"/><rect x="537.69" y="128.43" width="7.00" height="18.87" fill="#FAC7B3" stroke="#000" stroke-width="0.9"/><path d="M537.69 139.65H544.69" stroke="#000" stroke-width="1.8" fill="none"/>
<path d="M533.79 73.90V71.60H541.79V73.90" stroke="#000" stroke-width="1.1" fill="none"/>
<text x="537.79" y="71.40" text-anchor="middle" font-size="8" class="b">***</text>
<circle cx="552.06" cy="49.38" r="0.95" fill="#000" fill-opacity="0.42"/><circle cx="552.06" cy="101.65" r="0.95" fill="#000" fill-opacity="0.42"/><circle cx="552.06" cy="104.20" r="0.95" fill="#000" fill-opacity="0.42"/><circle cx="552.06" cy="106.75" r="0.95" fill="#000" fill-opacity="0.42"/><circle cx="552.06" cy="109.30" r="0.95" fill="#000" fill-opacity="0.42"/><circle cx="552.06" cy="111.85" r="0.95" fill="#000" fill-opacity="0.42"/><circle cx="552.06" cy="120.52" r="0.95" fill="#000" fill-opacity="0.42"/><circle cx="552.06" cy="123.32" r="0.95" fill="#000" fill-opacity="0.42"/><circle cx="552.06" cy="126.90" r="0.95" fill="#000" fill-opacity="0.42"/><circle cx="552.06" cy="141.43" r="0.95" fill="#000" fill-opacity="0.42"/><circle cx="552.06" cy="170.50" r="0.95" fill="#000" fill-opacity="0.42"/><path d="M552.06 58.30V72.07M552.06 84.05V100.12" stroke="#000" stroke-width="1.1" fill="none"/><rect x="548.56" y="72.07" width="7.00" height="11.98" fill="#A9DC85" stroke="#000" stroke-width="0.9"/><path d="M548.56 77.94H555.56" stroke="#000" stroke-width="1.8" fill="none"/>
<circle cx="558.86" cy="37.65" r="0.95" fill="#000" fill-opacity="0.42"/><circle cx="558.86" cy="124.60" r="0.95" fill="#000" fill-opacity="0.42"/><circle cx="558.86" cy="127.15" r="0.95" fill="#000" fill-opacity="0.42"/><circle cx="558.86" cy="129.70" r="0.95" fill="#000" fill-opacity="0.42"/><circle cx="558.86" cy="132.25" r="0.95" fill="#000" fill-opacity="0.42"/><circle cx="558.86" cy="134.80" r="0.95" fill="#000" fill-opacity="0.42"/><circle cx="558.86" cy="137.35" r="0.95" fill="#000" fill-opacity="0.42"/><circle cx="558.86" cy="139.13" r="0.95" fill="#000" fill-opacity="0.42"/><circle cx="558.86" cy="154.18" r="0.95" fill="#000" fill-opacity="0.42"/><path d="M558.86 51.42V78.45M558.86 96.04V122.81" stroke="#000" stroke-width="1.1" fill="none"/><rect x="555.36" y="78.45" width="7.00" height="17.59" fill="#FAC7B3" stroke="#000" stroke-width="0.9"/><path d="M555.36 85.84H562.36" stroke="#000" stroke-width="1.8" fill="none"/>
<path d="M551.46 35.70V33.40H559.46V35.70" stroke="#000" stroke-width="1.1" fill="none"/>
<text x="555.46" y="33.20" text-anchor="middle" font-size="8" class="b">***</text>
<circle cx="569.73" cy="122.56" r="0.95" fill="#000" fill-opacity="0.42"/><circle cx="569.73" cy="121.03" r="0.95" fill="#000" fill-opacity="0.42"/><circle cx="569.73" cy="119.50" r="0.95" fill="#000" fill-opacity="0.42"/><circle cx="569.73" cy="117.97" r="0.95" fill="#000" fill-opacity="0.42"/><circle cx="569.73" cy="116.44" r="0.95" fill="#000" fill-opacity="0.42"/><circle cx="569.73" cy="114.91" r="0.95" fill="#000" fill-opacity="0.42"/><circle cx="569.73" cy="113.38" r="0.95" fill="#000" fill-opacity="0.42"/><circle cx="569.73" cy="111.85" r="0.95" fill="#000" fill-opacity="0.42"/><circle cx="569.73" cy="110.32" r="0.95" fill="#000" fill-opacity="0.42"/><circle cx="569.73" cy="108.79" r="0.95" fill="#000" fill-opacity="0.42"/><circle cx="569.73" cy="105.22" r="0.95" fill="#000" fill-opacity="0.42"/><circle cx="569.73" cy="104.20" r="0.95" fill="#000" fill-opacity="0.42"/><circle cx="569.73" cy="102.42" r="0.95" fill="#000" fill-opacity="0.42"/><circle cx="569.73" cy="92.73" r="0.95" fill="#000" fill-opacity="0.42"/><path d="M569.73 124.60V149.84M569.73 167.44V170.50" stroke="#000" stroke-width="1.1" fill="none"/><rect x="566.23" y="149.84" width="7.00" height="17.59" fill="#A9DC85" stroke="#000" stroke-width="0.9"/><path d="M566.23 164.12H573.23" stroke="#000" stroke-width="1.8" fill="none"/>
<path d="M576.53 76.15V103.44M576.53 127.15V154.94" stroke="#000" stroke-width="1.1" fill="none"/><rect x="573.03" y="103.44" width="7.00" height="23.72" fill="#FAC7B3" stroke="#000" stroke-width="0.9"/><path d="M573.03 115.68H580.03" stroke="#000" stroke-width="1.8" fill="none"/>
<path d="M569.13 73.90V71.60H577.13V73.90" stroke="#000" stroke-width="1.1" fill="none"/>
<text x="573.13" y="71.40" text-anchor="middle" font-size="8" class="b">***</text>
<circle cx="587.40" cy="138.62" r="0.95" fill="#000" fill-opacity="0.42"/><path d="M587.40 32.54V69.77M587.40 96.30V118.99" stroke="#000" stroke-width="1.1" fill="none"/><rect x="583.90" y="69.77" width="7.00" height="26.52" fill="#A9DC85" stroke="#000" stroke-width="0.9"/><path d="M583.90 85.84H590.90" stroke="#000" stroke-width="1.8" fill="none"/>
<path d="M594.20 53.96V84.56M594.20 114.66V160.30" stroke="#000" stroke-width="1.1" fill="none"/><rect x="590.70" y="84.56" width="7.00" height="30.09" fill="#FAC7B3" stroke="#000" stroke-width="0.9"/><path d="M590.70 97.83H597.70" stroke="#000" stroke-width="1.8" fill="none"/>
<path d="M586.80 29.90V27.60H594.80V29.90" stroke="#000" stroke-width="1.1" fill="none"/>
<text x="590.80" y="27.40" text-anchor="middle" font-size="8" class="b">***</text>
<circle cx="605.07" cy="138.62" r="0.95" fill="#000" fill-opacity="0.42"/><path d="M605.07 32.54V66.46M605.07 91.96V118.99" stroke="#000" stroke-width="1.1" fill="none"/><rect x="601.57" y="66.46" width="7.00" height="25.50" fill="#A9DC85" stroke="#000" stroke-width="0.9"/><path d="M601.57 79.98H608.57" stroke="#000" stroke-width="1.8" fill="none"/>
<circle cx="611.87" cy="56.00" r="0.95" fill="#000" fill-opacity="0.42"/><path d="M611.87 70.28V93.23M611.87 114.66V141.43" stroke="#000" stroke-width="1.1" fill="none"/><rect x="608.37" y="93.23" width="7.00" height="21.42" fill="#FAC7B3" stroke="#000" stroke-width="0.9"/><path d="M608.37 102.67H615.37" stroke="#000" stroke-width="1.8" fill="none"/>
<path d="M604.47 29.90V27.60H612.47V29.90" stroke="#000" stroke-width="1.1" fill="none"/>
<text x="608.47" y="27.40" text-anchor="middle" font-size="8" class="b">***</text>
<path d="M626.14 89.92V109.56M626.14 123.84V136.59" stroke="#000" stroke-width="1.1" fill="none"/><rect x="619.14" y="109.56" width="14.00" height="14.28" fill="#FAC7B3" stroke="#000" stroke-width="0.9"/><path d="M619.14 115.68H633.14" stroke="#000" stroke-width="1.8" fill="none"/>
<path d="M50.3 11.4V175.2H636.8" stroke="#000" stroke-width="1" fill="none"/>
<path d="M46.2 170.50H50.3" stroke="#000" stroke-width="1"/>
<text x="43.3" y="174.00" text-anchor="end" font-size="9">0</text>
<path d="M46.2 145.00H50.3" stroke="#000" stroke-width="1"/>
<text x="43.3" y="148.50" text-anchor="end" font-size="9">1</text>
<path d="M46.2 119.50H50.3" stroke="#000" stroke-width="1"/>
<text x="43.3" y="123.00" text-anchor="end" font-size="9">2</text>
<path d="M46.2 94.00H50.3" stroke="#000" stroke-width="1"/>
<text x="43.3" y="97.50" text-anchor="end" font-size="9">3</text>
<path d="M46.2 68.50H50.3" stroke="#000" stroke-width="1"/>
<text x="43.3" y="72.00" text-anchor="end" font-size="9">4</text>
<path d="M46.2 43.00H50.3" stroke="#000" stroke-width="1"/>
<text x="43.3" y="46.50" text-anchor="end" font-size="9">5</text>
<path d="M46.2 17.50H50.3" stroke="#000" stroke-width="1"/>
<text x="43.3" y="21.00" text-anchor="end" font-size="9">6</text>
<path d="M60.70 175.2V179" stroke="#000" stroke-width="1"/>
<text transform="translate(61.50,181.60) rotate(-45)" text-anchor="end" font-size="9.1" dy="6.5">ACC</text>
<path d="M78.37 175.2V179" stroke="#000" stroke-width="1"/>
<text transform="translate(79.17,181.60) rotate(-45)" text-anchor="end" font-size="9.1" dy="6.5">BLCA</text>
<path d="M96.04 175.2V179" stroke="#000" stroke-width="1"/>
<text transform="translate(96.84,181.60) rotate(-45)" text-anchor="end" font-size="9.1" dy="6.5">BRCA</text>
<path d="M113.71 175.2V179" stroke="#000" stroke-width="1"/>
<text transform="translate(114.51,181.60) rotate(-45)" text-anchor="end" font-size="9.1" dy="6.5">CESC</text>
<path d="M131.38 175.2V179" stroke="#000" stroke-width="1"/>
<text transform="translate(132.18,181.60) rotate(-45)" text-anchor="end" font-size="9.1" dy="6.5">CHOL</text>
<path d="M149.05 175.2V179" stroke="#000" stroke-width="1"/>
<text transform="translate(149.85,181.60) rotate(-45)" text-anchor="end" font-size="9.1" dy="6.5">COAD</text>
<path d="M166.72 175.2V179" stroke="#000" stroke-width="1"/>
<text transform="translate(167.52,181.60) rotate(-45)" text-anchor="end" font-size="9.1" dy="6.5">DLBC</text>
<path d="M184.39 175.2V179" stroke="#000" stroke-width="1"/>
<text transform="translate(185.19,181.60) rotate(-45)" text-anchor="end" font-size="9.1" dy="6.5">ESCA</text>
<path d="M202.06 175.2V179" stroke="#000" stroke-width="1"/>
<text transform="translate(202.86,181.60) rotate(-45)" text-anchor="end" font-size="9.1" dy="6.5">GBM</text>
<path d="M219.73 175.2V179" stroke="#000" stroke-width="1"/>
<text transform="translate(220.53,181.60) rotate(-45)" text-anchor="end" font-size="9.1" dy="6.5">HNSC</text>
<path d="M237.40 175.2V179" stroke="#000" stroke-width="1"/>
<text transform="translate(238.20,181.60) rotate(-45)" text-anchor="end" font-size="9.1" dy="6.5">KICH</text>
<path d="M255.07 175.2V179" stroke="#000" stroke-width="1"/>
<text transform="translate(255.87,181.60) rotate(-45)" text-anchor="end" font-size="9.1" dy="6.5">KIRC</text>
<path d="M272.74 175.2V179" stroke="#000" stroke-width="1"/>
<text transform="translate(273.54,181.60) rotate(-45)" text-anchor="end" font-size="9.1" dy="6.5">KIRP</text>
<path d="M290.41 175.2V179" stroke="#000" stroke-width="1"/>
<text transform="translate(291.21,181.60) rotate(-45)" text-anchor="end" font-size="9.1" dy="6.5">LAML</text>
<path d="M308.08 175.2V179" stroke="#000" stroke-width="1"/>
<text transform="translate(308.88,181.60) rotate(-45)" text-anchor="end" font-size="9.1" dy="6.5">LGG</text>
<path d="M325.75 175.2V179" stroke="#000" stroke-width="1"/>
<text transform="translate(326.55,181.60) rotate(-45)" text-anchor="end" font-size="9.1" dy="6.5">LIHC</text>
<path d="M343.42 175.2V179" stroke="#000" stroke-width="1"/>
<text transform="translate(344.22,181.60) rotate(-45)" text-anchor="end" font-size="9.1" dy="6.5">LUAD</text>
<path d="M361.09 175.2V179" stroke="#000" stroke-width="1"/>
<text transform="translate(361.89,181.60) rotate(-45)" text-anchor="end" font-size="9.1" dy="6.5">LUSC</text>
<path d="M378.76 175.2V179" stroke="#000" stroke-width="1"/>
<text transform="translate(379.56,181.60) rotate(-45)" text-anchor="end" font-size="9.1" dy="6.5">MESO</text>
<path d="M396.43 175.2V179" stroke="#000" stroke-width="1"/>
<text transform="translate(397.23,181.60) rotate(-45)" text-anchor="end" font-size="9.1" dy="6.5">OV</text>
<path d="M414.10 175.2V179" stroke="#000" stroke-width="1"/>
<text transform="translate(414.90,181.60) rotate(-45)" text-anchor="end" font-size="9.1" dy="6.5">PAAD</text>
<path d="M431.77 175.2V179" stroke="#000" stroke-width="1"/>
<text transform="translate(432.57,181.60) rotate(-45)" text-anchor="end" font-size="9.1" dy="6.5">PCPG</text>
<path d="M449.44 175.2V179" stroke="#000" stroke-width="1"/>
<text transform="translate(450.24,181.60) rotate(-45)" text-anchor="end" font-size="9.1" dy="6.5">PRAD</text>
<path d="M467.11 175.2V179" stroke="#000" stroke-width="1"/>
<text transform="translate(467.91,181.60) rotate(-45)" text-anchor="end" font-size="9.1" dy="6.5">READ</text>
<path d="M484.78 175.2V179" stroke="#000" stroke-width="1"/>
<text transform="translate(485.58,181.60) rotate(-45)" text-anchor="end" font-size="9.1" dy="6.5">SARC</text>
<path d="M502.45 175.2V179" stroke="#000" stroke-width="1"/>
<text transform="translate(503.25,181.60) rotate(-45)" text-anchor="end" font-size="9.1" dy="6.5">SKCM</text>
<path d="M520.12 175.2V179" stroke="#000" stroke-width="1"/>
<text transform="translate(520.92,181.60) rotate(-45)" text-anchor="end" font-size="9.1" dy="6.5">STAD</text>
<path d="M537.79 175.2V179" stroke="#000" stroke-width="1"/>
<text transform="translate(538.59,181.60) rotate(-45)" text-anchor="end" font-size="9.1" dy="6.5">TGCT</text>
<path d="M555.46 175.2V179" stroke="#000" stroke-width="1"/>
<text transform="translate(556.26,181.60) rotate(-45)" text-anchor="end" font-size="9.1" dy="6.5">THCA</text>
<path d="M573.13 175.2V179" stroke="#000" stroke-width="1"/>
<text transform="translate(573.93,181.60) rotate(-45)" text-anchor="end" font-size="9.1" dy="6.5">THYM</text>
<path d="M590.80 175.2V179" stroke="#000" stroke-width="1"/>
<text transform="translate(591.60,181.60) rotate(-45)" text-anchor="end" font-size="9.1" dy="6.5">UCEC</text>
<path d="M608.47 175.2V179" stroke="#000" stroke-width="1"/>
<text transform="translate(609.27,181.60) rotate(-45)" text-anchor="end" font-size="9.1" dy="6.5">UCS</text>
<path d="M626.14 175.2V179" stroke="#000" stroke-width="1"/>
<text transform="translate(626.94,181.60) rotate(-45)" text-anchor="end" font-size="9.1" dy="6.5">UVM</text>
<text transform="translate(20.9,93.3) rotate(-90) scale(1,1.1)" text-anchor="middle" font-size="9.95">The expression of ZBED3</text>
<text transform="translate(30.3,93.6) rotate(-90) scale(1,1.1)" text-anchor="middle" font-size="9.95">Log<tspan font-size="6.9" dy="2">2</tspan><tspan dy="-2"> (TPM+1)</tspan></text>
<path d="M645.55 85.20V94.80" stroke="#111" stroke-width="0.9"/><rect x="641.6" y="87.30" width="7.9" height="5.4" fill="#A9DC85" stroke="#000" stroke-width="0.9"/><path d="M641.6 90.00H649.5" stroke="#000" stroke-width="1.0"/>
<path d="M645.55 95.00V104.60" stroke="#111" stroke-width="0.9"/><rect x="641.6" y="97.10" width="7.9" height="5.4" fill="#FAC7B3" stroke="#000" stroke-width="0.9"/><path d="M641.6 99.80H649.5" stroke="#000" stroke-width="1.0"/>
<text x="655.1" y="92.9" font-size="8.5">Normal</text>
<text x="655.1" y="102.6" font-size="8.5">Tumor</text>
<text x="1.2" y="14.3" font-size="18.5">A</text>
</g>
<g id="panelB">
<path d="M60.60 292.49L70.80 297.39M60.60 294.45L70.80 310.74M60.60 301.31L70.80 324.45M60.60 304.25L70.80 317.37M60.60 309.15L70.80 329.15M60.60 312.58L70.80 312.78M60.60 314.05L70.80 327.67M60.60 315.27L70.80 333.95M60.60 316.50L70.80 316.10M60.60 318.95L70.80 352.19M60.60 323.85L70.80 342.48M60.60 326.30L70.80 349.21M60.60 328.75L70.80 322.66M60.60 331.20L70.80 320.62M60.60 333.89L70.80 332.27M60.60 336.59L70.80 339.35M60.60 339.78L70.80 346.08M60.60 344.68L70.80 343.52M60.60 357.17L70.80 336.35" stroke="#000" stroke-width="1.15" fill="none"/>
<g fill="#A9DC85"><circle cx="60.60" cy="292.49" r="2.55"/><circle cx="60.60" cy="294.45" r="2.55"/><circle cx="60.60" cy="301.31" r="2.55"/><circle cx="60.60" cy="304.25" r="2.55"/><circle cx="60.60" cy="309.15" r="2.55"/><circle cx="60.60" cy="312.58" r="2.55"/><circle cx="60.60" cy="314.05" r="2.55"/><circle cx="60.60" cy="315.27" r="2.55"/><circle cx="60.60" cy="316.50" r="2.55"/><circle cx="60.60" cy="318.95" r="2.55"/><circle cx="60.60" cy="323.85" r="2.55"/><circle cx="60.60" cy="326.30" r="2.55"/><circle cx="60.60" cy="328.75" r="2.55"/><circle cx="60.60" cy="331.20" r="2.55"/><circle cx="60.60" cy="333.89" r="2.55"/><circle cx="60.60" cy="336.59" r="2.55"/><circle cx="60.60" cy="339.78" r="2.55"/><circle cx="60.60" cy="344.68" r="2.55"/><circle cx="60.60" cy="357.17" r="2.55"/></g>
<g fill="#FAC7B3"><circle cx="70.80" cy="297.39" r="2.55"/><circle cx="70.80" cy="310.74" r="2.55"/><circle cx="70.80" cy="324.45" r="2.55"/><circle cx="70.80" cy="317.37" r="2.55"/><circle cx="70.80" cy="329.15" r="2.55"/><circle cx="70.80" cy="312.78" r="2.55"/><circle cx="70.80" cy="327.67" r="2.55"/><circle cx="70.80" cy="333.95" r="2.55"/><circle cx="70.80" cy="316.10" r="2.55"/><circle cx="70.80" cy="352.19" r="2.55"/><circle cx="70.80" cy="342.48" r="2.55"/><circle cx="70.80" cy="349.21" r="2.55"/><circle cx="70.80" cy="322.66" r="2.55"/><circle cx="70.80" cy="320.62" r="2.55"/><circle cx="70.80" cy="332.27" r="2.55"/><circle cx="70.80" cy="339.35" r="2.55"/><circle cx="70.80" cy="346.08" r="2.55"/><circle cx="70.80" cy="343.52" r="2.55"/><circle cx="70.80" cy="336.35" r="2.55"/></g>
<path d="M60.20 290.30V287.90H71.20V290.30" stroke="#000" stroke-width="1.1" fill="none"/>
<text x="65.70" y="287.70" text-anchor="middle" font-size="8" class="b">*</text>
<path d="M85.95 246.43L96.15 261.80M85.95 252.92L96.15 257.21M85.95 253.48L96.15 288.31M85.95 253.90L96.15 261.32M85.95 254.31L96.15 273.99M85.95 254.96L96.15 272.14M85.95 255.39L96.15 274.58M85.95 255.69L96.15 267.71M85.95 256.28L96.15 279.99M85.95 256.73L96.15 310.26M85.95 257.32L96.15 277.50M85.95 257.74L96.15 284.59M85.95 258.04L96.15 292.37M85.95 258.76L96.15 275.63M85.95 258.91L96.15 264.03M85.95 259.49L96.15 269.55M85.95 260.08L96.15 296.06M85.95 260.32L96.15 260.19M85.95 260.91L96.15 271.50M85.95 261.21L96.15 296.92M85.95 261.91L96.15 293.00M85.95 262.41L96.15 280.63M85.95 262.81L96.15 294.40M85.95 263.39L96.15 283.10M85.95 263.65L96.15 266.01M85.95 264.25L96.15 263.36M85.95 264.68L96.15 273.22M85.95 265.14L96.15 299.99M85.95 265.56L96.15 276.20M85.95 266.17L96.15 270.54M85.95 266.68L96.15 272.76M85.95 266.97L96.15 265.38M85.95 267.51L96.15 282.68M85.95 267.75L96.15 268.20M85.95 268.45L96.15 291.31M85.95 268.90L96.15 259.41M85.95 269.50L96.15 292.00M85.95 269.90L96.15 278.15M85.95 270.16L96.15 262.52M85.95 270.67L96.15 303.75M85.95 271.24L96.15 283.97M85.95 271.47L96.15 260.60M85.95 272.10L96.15 277.05M85.95 272.45L96.15 295.11M85.95 272.90L96.15 282.02M85.95 273.35L96.15 307.95M85.95 274.08L96.15 307.57M85.95 274.30L96.15 306.76M85.95 274.82L96.15 299.69M85.95 275.34L96.15 316.06M85.95 275.98L96.15 308.66M85.95 276.15L96.15 304.29M85.95 276.76L96.15 265.05M85.95 277.26L96.15 314.17M85.95 277.85L96.15 320.30M85.95 278.29L96.15 289.17M85.95 278.78L96.15 286.67M85.95 279.02L96.15 326.28M85.95 279.54L96.15 269.13M85.95 279.99L96.15 309.68M85.95 280.65L96.15 331.27M85.95 281.14L96.15 281.31M85.95 281.31L96.15 315.27M85.95 281.79L96.15 326.96M85.95 282.27L96.15 298.10M85.95 282.74L96.15 313.84M85.95 283.30L96.15 316.59M85.95 283.81L96.15 285.11M85.95 284.15L96.15 302.51M85.95 284.52L96.15 311.33M85.95 285.14L96.15 317.12M85.95 285.59L96.15 305.34M85.95 286.13L96.15 301.88M85.95 286.74L96.15 285.82M85.95 287.11L96.15 298.90M85.95 287.51L96.15 324.46M85.95 288.01L96.15 310.65M85.95 288.50L96.15 289.59M85.95 288.74L96.15 290.57M85.95 289.52L96.15 343.45M85.95 289.94L96.15 324.82M85.95 290.44L96.15 321.46M85.95 290.88L96.15 267.24M85.95 291.19L96.15 322.40M85.95 291.66L96.15 318.41M85.95 292.02L96.15 330.87M85.95 292.68L96.15 317.94M85.95 292.94L96.15 313.19M85.95 293.41L96.15 322.82M85.95 293.92L96.15 279.19M85.95 294.37L96.15 325.55M85.95 294.91L96.15 319.05M85.95 295.27L96.15 303.20M85.95 295.71L96.15 329.18M85.95 296.24L96.15 332.03M85.95 296.68L96.15 287.36M85.95 297.25L96.15 305.79M85.95 297.59L96.15 323.78M85.95 298.37L96.15 320.82M85.95 298.74L96.15 312.06M85.95 299.03L96.15 301.03M85.95 299.54L96.15 355.70M85.95 300.04L96.15 328.38M85.95 300.51L96.15 297.59M85.95 300.89L96.15 293.71M85.95 312.58L96.15 332.81M85.95 314.05L96.15 329.73M85.95 321.40L96.15 333.70M85.95 331.44L96.15 327.86" stroke="#000" stroke-width="1.15" fill="none"/>
<g fill="#A9DC85"><circle cx="85.95" cy="246.43" r="2.55"/><circle cx="85.95" cy="252.92" r="2.55"/><circle cx="85.95" cy="253.48" r="2.55"/><circle cx="85.95" cy="253.90" r="2.55"/><circle cx="85.95" cy="254.31" r="2.55"/><circle cx="85.95" cy="254.96" r="2.55"/><circle cx="85.95" cy="255.39" r="2.55"/><circle cx="85.95" cy="255.69" r="2.55"/><circle cx="85.95" cy="256.28" r="2.55"/><circle cx="85.95" cy="256.73" r="2.55"/><circle cx="85.95" cy="257.32" r="2.55"/><circle cx="85.95" cy="257.74" r="2.55"/><circle cx="85.95" cy="258.04" r="2.55"/><circle cx="85.95" cy="258.76" r="2.55"/><circle cx="85.95" cy="258.91" r="2.55"/><circle cx="85.95" cy="259.49" r="2.55"/><circle cx="85.95" cy="260.08" r="2.55"/><circle cx="85.95" cy="260.32" r="2.55"/><circle cx="85.95" cy="260.91" r="2.55"/><circle cx="85.95" cy="261.21" r="2.55"/><circle cx="85.95" cy="261.91" r="2.55"/><circle cx="85.95" cy="262.41" r="2.55"/><circle cx="85.95" cy="262.81" r="2.55"/><circle cx="85.95" cy="263.39" r="2.55"/><circle cx="85.95" cy="263.65" r="2.55"/><circle cx="85.95" cy="264.25" r="2.55"/><circle cx="85.95" cy="264.68" r="2.55"/><circle cx="85.95" cy="265.14" r="2.55"/><circle cx="85.95" cy="265.56" r="2.55"/><circle cx="85.95" cy="266.17" r="2.55"/><circle cx="85.95" cy="266.68" r="2.55"/><circle cx="85.95" cy="266.97" r="2.55"/><circle cx="85.95" cy="267.51" r="2.55"/><circle cx="85.95" cy="267.75" r="2.55"/><circle cx="85.95" cy="268.45" r="2.55"/><circle cx="85.95" cy="268.90" r="2.55"/><circle cx="85.95" cy="269.50" r="2.55"/><circle cx="85.95" cy="269.90" r="2.55"/><circle cx="85.95" cy="270.16" r="2.55"/><circle cx="85.95" cy="270.67" r="2.55"/><circle cx="85.95" cy="271.24" r="2.55"/><circle cx="85.95" cy="271.47" r="2.55"/><circle cx="85.95" cy="272.10" r="2.55"/><circle cx="85.95" cy="272.45" r="2.55"/><circle cx="85.95" cy="272.90" r="2.55"/><circle cx="85.95" cy="273.35" r="2.55"/><circle cx="85.95" cy="274.08" r="2.55"/><circle cx="85.95" cy="274.30" r="2.55"/><circle cx="85.95" cy="274.82" r="2.55"/><circle cx="85.95" cy="275.34" r="2.55"/><circle cx="85.95" cy="275.98" r="2.55"/><circle cx="85.95" cy="276.15" r="2.55"/><circle cx="85.95" cy="276.76" r="2.55"/><circle cx="85.95" cy="277.26" r="2.55"/><circle cx="85.95" cy="277.85" r="2.55"/><circle cx="85.95" cy="278.29" r="2.55"/><circle cx="85.95" cy="278.78" r="2.55"/><circle cx="85.95" cy="279.02" r="2.55"/><circle cx="85.95" cy="279.54" r="2.55"/><circle cx="85.95" cy="279.99" r="2.55"/><circle cx="85.95" cy="280.65" r="2.55"/><circle cx="85.95" cy="281.14" r="2.55"/><circle cx="85.95" cy="281.31" r="2.55"/><circle cx="85.95" cy="281.79" r="2.55"/><circle cx="85.95" cy="282.27" r="2.55"/><circle cx="85.95" cy="282.74" r="2.55"/><circle cx="85.95" cy="283.30" r="2.55"/><circle cx="85.95" cy="283.81" r="2.55"/><circle cx="85.95" cy="284.15" r="2.55"/><circle cx="85.95" cy="284.52" r="2.55"/><circle cx="85.95" cy="285.14" r="2.55"/><circle cx="85.95" cy="285.59" r="2.55"/><circle cx="85.95" cy="286.13" r="2.55"/><circle cx="85.95" cy="286.74" r="2.55"/><circle cx="85.95" cy="287.11" r="2.55"/><circle cx="85.95" cy="287.51" r="2.55"/><circle cx="85.95" cy="288.01" r="2.55"/><circle cx="85.95" cy="288.50" r="2.55"/><circle cx="85.95" cy="288.74" r="2.55"/><circle cx="85.95" cy="289.52" r="2.55"/><circle cx="85.95" cy="289.94" r="2.55"/><circle cx="85.95" cy="290.44" r="2.55"/><circle cx="85.95" cy="290.88" r="2.55"/><circle cx="85.95" cy="291.19" r="2.55"/><circle cx="85.95" cy="291.66" r="2.55"/><circle cx="85.95" cy="292.02" r="2.55"/><circle cx="85.95" cy="292.68" r="2.55"/><circle cx="85.95" cy="292.94" r="2.55"/><circle cx="85.95" cy="293.41" r="2.55"/><circle cx="85.95" cy="293.92" r="2.55"/><circle cx="85.95" cy="294.37" r="2.55"/><circle cx="85.95" cy="294.91" r="2.55"/><circle cx="85.95" cy="295.27" r="2.55"/><circle cx="85.95" cy="295.71" r="2.55"/><circle cx="85.95" cy="296.24" r="2.55"/><circle cx="85.95" cy="296.68" r="2.55"/><circle cx="85.95" cy="297.25" r="2.55"/><circle cx="85.95" cy="297.59" r="2.55"/><circle cx="85.95" cy="298.37" r="2.55"/><circle cx="85.95" cy="298.74" r="2.55"/><circle cx="85.95" cy="299.03" r="2.55"/><circle cx="85.95" cy="299.54" r="2.55"/><circle cx="85.95" cy="300.04" r="2.55"/><circle cx="85.95" cy="300.51" r="2.55"/><circle cx="85.95" cy="300.89" r="2.55"/><circle cx="85.95" cy="312.58" r="2.55"/><circle cx="85.95" cy="314.05" r="2.55"/><circle cx="85.95" cy="321.40" r="2.55"/><circle cx="85.95" cy="331.44" r="2.55"/></g>
<g fill="#FAC7B3"><circle cx="96.15" cy="261.80" r="2.55"/><circle cx="96.15" cy="257.21" r="2.55"/><circle cx="96.15" cy="288.31" r="2.55"/><circle cx="96.15" cy="261.32" r="2.55"/><circle cx="96.15" cy="273.99" r="2.55"/><circle cx="96.15" cy="272.14" r="2.55"/><circle cx="96.15" cy="274.58" r="2.55"/><circle cx="96.15" cy="267.71" r="2.55"/><circle cx="96.15" cy="279.99" r="2.55"/><circle cx="96.15" cy="310.26" r="2.55"/><circle cx="96.15" cy="277.50" r="2.55"/><circle cx="96.15" cy="284.59" r="2.55"/><circle cx="96.15" cy="292.37" r="2.55"/><circle cx="96.15" cy="275.63" r="2.55"/><circle cx="96.15" cy="264.03" r="2.55"/><circle cx="96.15" cy="269.55" r="2.55"/><circle cx="96.15" cy="296.06" r="2.55"/><circle cx="96.15" cy="260.19" r="2.55"/><circle cx="96.15" cy="271.50" r="2.55"/><circle cx="96.15" cy="296.92" r="2.55"/><circle cx="96.15" cy="293.00" r="2.55"/><circle cx="96.15" cy="280.63" r="2.55"/><circle cx="96.15" cy="294.40" r="2.55"/><circle cx="96.15" cy="283.10" r="2.55"/><circle cx="96.15" cy="266.01" r="2.55"/><circle cx="96.15" cy="263.36" r="2.55"/><circle cx="96.15" cy="273.22" r="2.55"/><circle cx="96.15" cy="299.99" r="2.55"/><circle cx="96.15" cy="276.20" r="2.55"/><circle cx="96.15" cy="270.54" r="2.55"/><circle cx="96.15" cy="272.76" r="2.55"/><circle cx="96.15" cy="265.38" r="2.55"/><circle cx="96.15" cy="282.68" r="2.55"/><circle cx="96.15" cy="268.20" r="2.55"/><circle cx="96.15" cy="291.31" r="2.55"/><circle cx="96.15" cy="259.41" r="2.55"/><circle cx="96.15" cy="292.00" r="2.55"/><circle cx="96.15" cy="278.15" r="2.55"/><circle cx="96.15" cy="262.52" r="2.55"/><circle cx="96.15" cy="303.75" r="2.55"/><circle cx="96.15" cy="283.97" r="2.55"/><circle cx="96.15" cy="260.60" r="2.55"/><circle cx="96.15" cy="277.05" r="2.55"/><circle cx="96.15" cy="295.11" r="2.55"/><circle cx="96.15" cy="282.02" r="2.55"/><circle cx="96.15" cy="307.95" r="2.55"/><circle cx="96.15" cy="307.57" r="2.55"/><circle cx="96.15" cy="306.76" r="2.55"/><circle cx="96.15" cy="299.69" r="2.55"/><circle cx="96.15" cy="316.06" r="2.55"/><circle cx="96.15" cy="308.66" r="2.55"/><circle cx="96.15" cy="304.29" r="2.55"/><circle cx="96.15" cy="265.05" r="2.55"/><circle cx="96.15" cy="314.17" r="2.55"/><circle cx="96.15" cy="320.30" r="2.55"/><circle cx="96.15" cy="289.17" r="2.55"/><circle cx="96.15" cy="286.67" r="2.55"/><circle cx="96.15" cy="326.28" r="2.55"/><circle cx="96.15" cy="269.13" r="2.55"/><circle cx="96.15" cy="309.68" r="2.55"/><circle cx="96.15" cy="331.27" r="2.55"/><circle cx="96.15" cy="281.31" r="2.55"/><circle cx="96.15" cy="315.27" r="2.55"/><circle cx="96.15" cy="326.96" r="2.55"/><circle cx="96.15" cy="298.10" r="2.55"/><circle cx="96.15" cy="313.84" r="2.55"/><circle cx="96.15" cy="316.59" r="2.55"/><circle cx="96.15" cy="285.11" r="2.55"/><circle cx="96.15" cy="302.51" r="2.55"/><circle cx="96.15" cy="311.33" r="2.55"/><circle cx="96.15" cy="317.12" r="2.55"/><circle cx="96.15" cy="305.34" r="2.55"/><circle cx="96.15" cy="301.88" r="2.55"/><circle cx="96.15" cy="285.82" r="2.55"/><circle cx="96.15" cy="298.90" r="2.55"/><circle cx="96.15" cy="324.46" r="2.55"/><circle cx="96.15" cy="310.65" r="2.55"/><circle cx="96.15" cy="289.59" r="2.55"/><circle cx="96.15" cy="290.57" r="2.55"/><circle cx="96.15" cy="343.45" r="2.55"/><circle cx="96.15" cy="324.82" r="2.55"/><circle cx="96.15" cy="321.46" r="2.55"/><circle cx="96.15" cy="267.24" r="2.55"/><circle cx="96.15" cy="322.40" r="2.55"/><circle cx="96.15" cy="318.41" r="2.55"/><circle cx="96.15" cy="330.87" r="2.55"/><circle cx="96.15" cy="317.94" r="2.55"/><circle cx="96.15" cy="313.19" r="2.55"/><circle cx="96.15" cy="322.82" r="2.55"/><circle cx="96.15" cy="279.19" r="2.55"/><circle cx="96.15" cy="325.55" r="2.55"/><circle cx="96.15" cy="319.05" r="2.55"/><circle cx="96.15" cy="303.20" r="2.55"/><circle cx="96.15" cy="329.18" r="2.55"/><circle cx="96.15" cy="332.03" r="2.55"/><circle cx="96.15" cy="287.36" r="2.55"/><circle cx="96.15" cy="305.79" r="2.55"/><circle cx="96.15" cy="323.78" r="2.55"/><circle cx="96.15" cy="320.82" r="2.55"/><circle cx="96.15" cy="312.06" r="2.55"/><circle cx="96.15" cy="301.03" r="2.55"/><circle cx="96.15" cy="355.70" r="2.55"/><circle cx="96.15" cy="328.38" r="2.55"/><circle cx="96.15" cy="297.59" r="2.55"/><circle cx="96.15" cy="293.71" r="2.55"/><circle cx="96.15" cy="332.81" r="2.55"/><circle cx="96.15" cy="329.73" r="2.55"/><circle cx="96.15" cy="333.70" r="2.55"/><circle cx="96.15" cy="327.86" r="2.55"/></g>
<path d="M85.55 244.50V242.10H96.55V244.50" stroke="#000" stroke-width="1.1" fill="none"/>
<text x="91.05" y="241.90" text-anchor="middle" font-size="8" class="b">***</text>
<path d="M111.30 275.34L121.50 338.31M111.30 279.75L121.50 330.22M111.30 322.13L121.50 317.24" stroke="#000" stroke-width="1.15" fill="none"/>
<g fill="#A9DC85"><circle cx="111.30" cy="275.34" r="2.55"/><circle cx="111.30" cy="279.75" r="2.55"/><circle cx="111.30" cy="322.13" r="2.55"/></g>
<g fill="#FAC7B3"><circle cx="121.50" cy="338.31" r="2.55"/><circle cx="121.50" cy="330.22" r="2.55"/><circle cx="121.50" cy="317.24" r="2.55"/></g>
<path d="M110.90 275.10V272.70H121.90V275.10" stroke="#000" stroke-width="1.1" fill="none"/>
<text x="116.40" y="270.70" text-anchor="middle" font-size="8.4">ns</text>
<path d="M136.65 277.30L146.85 335.12M136.65 306.70L146.85 270.19M136.65 309.15L146.85 275.34M136.65 311.60L146.85 281.71M136.65 314.05L146.85 292.98M136.65 316.50L146.85 318.22M136.65 318.95L146.85 305.48M136.65 321.40L146.85 272.40M136.65 323.85L146.85 294.45" stroke="#000" stroke-width="1.15" fill="none"/>
<g fill="#A9DC85"><circle cx="136.65" cy="277.30" r="2.55"/><circle cx="136.65" cy="306.70" r="2.55"/><circle cx="136.65" cy="309.15" r="2.55"/><circle cx="136.65" cy="311.60" r="2.55"/><circle cx="136.65" cy="314.05" r="2.55"/><circle cx="136.65" cy="316.50" r="2.55"/><circle cx="136.65" cy="318.95" r="2.55"/><circle cx="136.65" cy="321.40" r="2.55"/><circle cx="136.65" cy="323.85" r="2.55"/></g>
<g fill="#FAC7B3"><circle cx="146.85" cy="335.12" r="2.55"/><circle cx="146.85" cy="270.19" r="2.55"/><circle cx="146.85" cy="275.34" r="2.55"/><circle cx="146.85" cy="281.71" r="2.55"/><circle cx="146.85" cy="292.98" r="2.55"/><circle cx="146.85" cy="318.22" r="2.55"/><circle cx="146.85" cy="305.48" r="2.55"/><circle cx="146.85" cy="272.40" r="2.55"/><circle cx="146.85" cy="294.45" r="2.55"/></g>
<path d="M136.25 269.40V267.00H147.25V269.40" stroke="#000" stroke-width="1.1" fill="none"/>
<text x="141.75" y="265.00" text-anchor="middle" font-size="8.4">ns</text>
<path d="M162.00 286.28L172.20 290.41M162.00 287.28L172.20 289.05M162.00 288.57L172.20 281.63M162.00 290.00L172.20 299.21M162.00 290.52L172.20 275.62M162.00 291.50L172.20 280.37M162.00 292.95L172.20 292.43M162.00 293.80L172.20 274.37M162.00 294.79L172.20 286.93M162.00 295.94L172.20 267.75M162.00 296.94L172.20 285.69M162.00 298.18L172.20 304.60M162.00 299.38L172.20 305.60M162.00 300.48L172.20 297.58M162.00 301.98L172.20 295.08M162.00 302.67L172.20 277.96M162.00 303.96L172.20 320.16M162.00 304.77L172.20 308.32M162.00 306.03L172.20 313.78M162.00 306.84L172.20 291.52M162.00 308.15L172.20 302.40M162.00 309.04L172.20 276.70M162.00 310.78L172.20 312.36M162.00 311.72L172.20 317.78M162.00 312.50L172.20 278.97M162.00 313.86L172.20 307.69M162.00 315.36L172.20 315.13M162.00 315.74L172.20 284.47M162.00 317.47L172.20 283.66M162.00 318.23L172.20 296.58M162.00 319.39L172.20 303.73M162.00 320.79L172.20 293.71M162.00 321.50L172.20 310.63M162.00 322.70L172.20 316.13M162.00 323.97L172.20 318.57M162.00 325.33L172.20 321.30M162.00 325.87L172.20 329.73M162.00 327.40L172.20 322.95M162.00 333.16L172.20 300.34M162.00 334.14L172.20 309.69" stroke="#000" stroke-width="1.15" fill="none"/>
<g fill="#A9DC85"><circle cx="162.00" cy="286.28" r="2.55"/><circle cx="162.00" cy="287.28" r="2.55"/><circle cx="162.00" cy="288.57" r="2.55"/><circle cx="162.00" cy="290.00" r="2.55"/><circle cx="162.00" cy="290.52" r="2.55"/><circle cx="162.00" cy="291.50" r="2.55"/><circle cx="162.00" cy="292.95" r="2.55"/><circle cx="162.00" cy="293.80" r="2.55"/><circle cx="162.00" cy="294.79" r="2.55"/><circle cx="162.00" cy="295.94" r="2.55"/><circle cx="162.00" cy="296.94" r="2.55"/><circle cx="162.00" cy="298.18" r="2.55"/><circle cx="162.00" cy="299.38" r="2.55"/><circle cx="162.00" cy="300.48" r="2.55"/><circle cx="162.00" cy="301.98" r="2.55"/><circle cx="162.00" cy="302.67" r="2.55"/><circle cx="162.00" cy="303.96" r="2.55"/><circle cx="162.00" cy="304.77" r="2.55"/><circle cx="162.00" cy="306.03" r="2.55"/><circle cx="162.00" cy="306.84" r="2.55"/><circle cx="162.00" cy="308.15" r="2.55"/><circle cx="162.00" cy="309.04" r="2.55"/><circle cx="162.00" cy="310.78" r="2.55"/><circle cx="162.00" cy="311.72" r="2.55"/><circle cx="162.00" cy="312.50" r="2.55"/><circle cx="162.00" cy="313.86" r="2.55"/><circle cx="162.00" cy="315.36" r="2.55"/><circle cx="162.00" cy="315.74" r="2.55"/><circle cx="162.00" cy="317.47" r="2.55"/><circle cx="162.00" cy="318.23" r="2.55"/><circle cx="162.00" cy="319.39" r="2.55"/><circle cx="162.00" cy="320.79" r="2.55"/><circle cx="162.00" cy="321.50" r="2.55"/><circle cx="162.00" cy="322.70" r="2.55"/><circle cx="162.00" cy="323.97" r="2.55"/><circle cx="162.00" cy="325.33" r="2.55"/><circle cx="162.00" cy="325.87" r="2.55"/><circle cx="162.00" cy="327.40" r="2.55"/><circle cx="162.00" cy="333.16" r="2.55"/><circle cx="162.00" cy="334.14" r="2.55"/></g>
<g fill="#FAC7B3"><circle cx="172.20" cy="290.41" r="2.55"/><circle cx="172.20" cy="289.05" r="2.55"/><circle cx="172.20" cy="281.63" r="2.55"/><circle cx="172.20" cy="299.21" r="2.55"/><circle cx="172.20" cy="275.62" r="2.55"/><circle cx="172.20" cy="280.37" r="2.55"/><circle cx="172.20" cy="292.43" r="2.55"/><circle cx="172.20" cy="274.37" r="2.55"/><circle cx="172.20" cy="286.93" r="2.55"/><circle cx="172.20" cy="267.75" r="2.55"/><circle cx="172.20" cy="285.69" r="2.55"/><circle cx="172.20" cy="304.60" r="2.55"/><circle cx="172.20" cy="305.60" r="2.55"/><circle cx="172.20" cy="297.58" r="2.55"/><circle cx="172.20" cy="295.08" r="2.55"/><circle cx="172.20" cy="277.96" r="2.55"/><circle cx="172.20" cy="320.16" r="2.55"/><circle cx="172.20" cy="308.32" r="2.55"/><circle cx="172.20" cy="313.78" r="2.55"/><circle cx="172.20" cy="291.52" r="2.55"/><circle cx="172.20" cy="302.40" r="2.55"/><circle cx="172.20" cy="276.70" r="2.55"/><circle cx="172.20" cy="312.36" r="2.55"/><circle cx="172.20" cy="317.78" r="2.55"/><circle cx="172.20" cy="278.97" r="2.55"/><circle cx="172.20" cy="307.69" r="2.55"/><circle cx="172.20" cy="315.13" r="2.55"/><circle cx="172.20" cy="284.47" r="2.55"/><circle cx="172.20" cy="283.66" r="2.55"/><circle cx="172.20" cy="296.58" r="2.55"/><circle cx="172.20" cy="303.73" r="2.55"/><circle cx="172.20" cy="293.71" r="2.55"/><circle cx="172.20" cy="310.63" r="2.55"/><circle cx="172.20" cy="316.13" r="2.55"/><circle cx="172.20" cy="318.57" r="2.55"/><circle cx="172.20" cy="321.30" r="2.55"/><circle cx="172.20" cy="329.73" r="2.55"/><circle cx="172.20" cy="322.95" r="2.55"/><circle cx="172.20" cy="300.34" r="2.55"/><circle cx="172.20" cy="309.69" r="2.55"/></g>
<path d="M161.60 265.10V262.70H172.60V265.10" stroke="#000" stroke-width="1.1" fill="none"/>
<text x="167.10" y="262.50" text-anchor="middle" font-size="8" class="b">***</text>
<path d="M187.35 262.36L197.55 287.10M187.35 274.12L197.55 284.16M187.35 277.30L197.55 289.55M187.35 280.98L197.55 326.30M187.35 284.16L197.55 313.56M187.35 282.20L197.55 288.33M187.35 335.37L197.55 290.04M187.35 339.04L197.55 315.27" stroke="#000" stroke-width="1.15" fill="none"/>
<g fill="#A9DC85"><circle cx="187.35" cy="262.36" r="2.55"/><circle cx="187.35" cy="274.12" r="2.55"/><circle cx="187.35" cy="277.30" r="2.55"/><circle cx="187.35" cy="280.98" r="2.55"/><circle cx="187.35" cy="284.16" r="2.55"/><circle cx="187.35" cy="282.20" r="2.55"/><circle cx="187.35" cy="335.37" r="2.55"/><circle cx="187.35" cy="339.04" r="2.55"/></g>
<g fill="#FAC7B3"><circle cx="197.55" cy="287.10" r="2.55"/><circle cx="197.55" cy="284.16" r="2.55"/><circle cx="197.55" cy="289.55" r="2.55"/><circle cx="197.55" cy="326.30" r="2.55"/><circle cx="197.55" cy="313.56" r="2.55"/><circle cx="197.55" cy="288.33" r="2.55"/><circle cx="197.55" cy="290.04" r="2.55"/><circle cx="197.55" cy="315.27" r="2.55"/></g>
<path d="M186.95 260.10V257.70H197.95V260.10" stroke="#000" stroke-width="1.1" fill="none"/>
<text x="192.45" y="255.70" text-anchor="middle" font-size="8.4">ns</text>
<path d="M212.70 279.01L222.90 345.04M212.70 279.75L222.90 297.14M212.70 288.33L222.90 332.06M212.70 296.66L222.90 317.16M212.70 310.86L222.90 315.79M212.70 312.37L222.90 336.12M212.70 313.60L222.90 349.03M212.70 314.49L222.90 324.91M212.70 316.86L222.90 318.15M212.70 318.25L222.90 342.44M212.70 319.42L222.90 330.08M212.70 320.91L222.90 335.56M212.70 322.50L222.90 358.38M212.70 323.27L222.90 353.79M212.70 325.50L222.90 324.55M212.70 326.39L222.90 368.33M212.70 327.63L222.90 333.37M212.70 329.30L222.90 349.89M212.70 331.29L222.90 326.77M212.70 332.14L222.90 337.90M212.70 334.21L222.90 303.76M212.70 335.93L222.90 366.13M212.70 336.82L222.90 363.73M212.70 338.15L222.90 323.22M212.70 339.71L222.90 320.99M212.70 341.40L222.90 320.38M212.70 342.95L222.90 365.68M212.70 344.22L222.90 338.80M212.70 345.70L222.90 346.07M212.70 346.50L222.90 342.91M212.70 348.03L222.90 347.86M212.70 349.61L222.90 330.89M212.70 351.63L222.90 352.92M212.70 352.57L222.90 328.55M212.70 354.32L222.90 355.14M212.70 355.13L222.90 359.59M212.70 356.64L222.90 362.38M212.70 358.33L222.90 357.05M212.70 360.25L222.90 340.59M212.70 361.72L222.90 360.78M212.70 363.16L222.90 352.00M212.70 364.16L222.90 370.38M212.70 365.87L222.90 369.80" stroke="#000" stroke-width="1.15" fill="none"/>
<g fill="#A9DC85"><circle cx="212.70" cy="279.01" r="2.55"/><circle cx="212.70" cy="279.75" r="2.55"/><circle cx="212.70" cy="288.33" r="2.55"/><circle cx="212.70" cy="296.66" r="2.55"/><circle cx="212.70" cy="310.86" r="2.55"/><circle cx="212.70" cy="312.37" r="2.55"/><circle cx="212.70" cy="313.60" r="2.55"/><circle cx="212.70" cy="314.49" r="2.55"/><circle cx="212.70" cy="316.86" r="2.55"/><circle cx="212.70" cy="318.25" r="2.55"/><circle cx="212.70" cy="319.42" r="2.55"/><circle cx="212.70" cy="320.91" r="2.55"/><circle cx="212.70" cy="322.50" r="2.55"/><circle cx="212.70" cy="323.27" r="2.55"/><circle cx="212.70" cy="325.50" r="2.55"/><circle cx="212.70" cy="326.39" r="2.55"/><circle cx="212.70" cy="327.63" r="2.55"/><circle cx="212.70" cy="329.30" r="2.55"/><circle cx="212.70" cy="331.29" r="2.55"/><circle cx="212.70" cy="332.14" r="2.55"/><circle cx="212.70" cy="334.21" r="2.55"/><circle cx="212.70" cy="335.93" r="2.55"/><circle cx="212.70" cy="336.82" r="2.55"/><circle cx="212.70" cy="338.15" r="2.55"/><circle cx="212.70" cy="339.71" r="2.55"/><circle cx="212.70" cy="341.40" r="2.55"/><circle cx="212.70" cy="342.95" r="2.55"/><circle cx="212.70" cy="344.22" r="2.55"/><circle cx="212.70" cy="345.70" r="2.55"/><circle cx="212.70" cy="346.50" r="2.55"/><circle cx="212.70" cy="348.03" r="2.55"/><circle cx="212.70" cy="349.61" r="2.55"/><circle cx="212.70" cy="351.63" r="2.55"/><circle cx="212.70" cy="352.57" r="2.55"/><circle cx="212.70" cy="354.32" r="2.55"/><circle cx="212.70" cy="355.13" r="2.55"/><circle cx="212.70" cy="356.64" r="2.55"/><circle cx="212.70" cy="358.33" r="2.55"/><circle cx="212.70" cy="360.25" r="2.55"/><circle cx="212.70" cy="361.72" r="2.55"/><circle cx="212.70" cy="363.16" r="2.55"/><circle cx="212.70" cy="364.16" r="2.55"/><circle cx="212.70" cy="365.87" r="2.55"/></g>
<g fill="#FAC7B3"><circle cx="222.90" cy="345.04" r="2.55"/><circle cx="222.90" cy="297.14" r="2.55"/><circle cx="222.90" cy="332.06" r="2.55"/><circle cx="222.90" cy="317.16" r="2.55"/><circle cx="222.90" cy="315.79" r="2.55"/><circle cx="222.90" cy="336.12" r="2.55"/><circle cx="222.90" cy="349.03" r="2.55"/><circle cx="222.90" cy="324.91" r="2.55"/><circle cx="222.90" cy="318.15" r="2.55"/><circle cx="222.90" cy="342.44" r="2.55"/><circle cx="222.90" cy="330.08" r="2.55"/><circle cx="222.90" cy="335.56" r="2.55"/><circle cx="222.90" cy="358.38" r="2.55"/><circle cx="222.90" cy="353.79" r="2.55"/><circle cx="222.90" cy="324.55" r="2.55"/><circle cx="222.90" cy="368.33" r="2.55"/><circle cx="222.90" cy="333.37" r="2.55"/><circle cx="222.90" cy="349.89" r="2.55"/><circle cx="222.90" cy="326.77" r="2.55"/><circle cx="222.90" cy="337.90" r="2.55"/><circle cx="222.90" cy="303.76" r="2.55"/><circle cx="222.90" cy="366.13" r="2.55"/><circle cx="222.90" cy="363.73" r="2.55"/><circle cx="222.90" cy="323.22" r="2.55"/><circle cx="222.90" cy="320.99" r="2.55"/><circle cx="222.90" cy="320.38" r="2.55"/><circle cx="222.90" cy="365.68" r="2.55"/><circle cx="222.90" cy="338.80" r="2.55"/><circle cx="222.90" cy="346.07" r="2.55"/><circle cx="222.90" cy="342.91" r="2.55"/><circle cx="222.90" cy="347.86" r="2.55"/><circle cx="222.90" cy="330.89" r="2.55"/><circle cx="222.90" cy="352.92" r="2.55"/><circle cx="222.90" cy="328.55" r="2.55"/><circle cx="222.90" cy="355.14" r="2.55"/><circle cx="222.90" cy="359.59" r="2.55"/><circle cx="222.90" cy="362.38" r="2.55"/><circle cx="222.90" cy="357.05" r="2.55"/><circle cx="222.90" cy="340.59" r="2.55"/><circle cx="222.90" cy="360.78" r="2.55"/><circle cx="222.90" cy="352.00" r="2.55"/><circle cx="222.90" cy="370.38" r="2.55"/><circle cx="222.90" cy="369.80" r="2.55"/></g>
<path d="M212.30 276.40V274.00H223.30V276.40" stroke="#000" stroke-width="1.1" fill="none"/>
<text x="217.80" y="272.00" text-anchor="middle" font-size="8.4">ns</text>
<path d="M238.05 261.94L248.25 272.76M238.05 262.71L248.25 278.57M238.05 264.01L248.25 276.35M238.05 264.95L248.25 304.91M238.05 265.83L248.25 285.08M238.05 266.90L248.25 298.90M238.05 268.02L248.25 274.73M238.05 269.70L248.25 282.93M238.05 270.43L248.25 286.81M238.05 271.27L248.25 261.38M238.05 272.94L248.25 317.01M238.05 274.09L248.25 311.87M238.05 274.70L248.25 269.98M238.05 275.51L248.25 314.98M238.05 276.63L248.25 296.46M238.05 277.62L248.25 307.08M238.05 278.92L248.25 309.57M238.05 279.78L248.25 280.98M238.05 280.99L248.25 302.59M238.05 282.08L248.25 333.89M238.05 287.84L248.25 301.53M238.05 294.45L248.25 292.85M238.05 297.88L248.25 289.41M238.05 298.86L248.25 293.57" stroke="#000" stroke-width="1.15" fill="none"/>
<g fill="#A9DC85"><circle cx="238.05" cy="261.94" r="2.55"/><circle cx="238.05" cy="262.71" r="2.55"/><circle cx="238.05" cy="264.01" r="2.55"/><circle cx="238.05" cy="264.95" r="2.55"/><circle cx="238.05" cy="265.83" r="2.55"/><circle cx="238.05" cy="266.90" r="2.55"/><circle cx="238.05" cy="268.02" r="2.55"/><circle cx="238.05" cy="269.70" r="2.55"/><circle cx="238.05" cy="270.43" r="2.55"/><circle cx="238.05" cy="271.27" r="2.55"/><circle cx="238.05" cy="272.94" r="2.55"/><circle cx="238.05" cy="274.09" r="2.55"/><circle cx="238.05" cy="274.70" r="2.55"/><circle cx="238.05" cy="275.51" r="2.55"/><circle cx="238.05" cy="276.63" r="2.55"/><circle cx="238.05" cy="277.62" r="2.55"/><circle cx="238.05" cy="278.92" r="2.55"/><circle cx="238.05" cy="279.78" r="2.55"/><circle cx="238.05" cy="280.99" r="2.55"/><circle cx="238.05" cy="282.08" r="2.55"/><circle cx="238.05" cy="287.84" r="2.55"/><circle cx="238.05" cy="294.45" r="2.55"/><circle cx="238.05" cy="297.88" r="2.55"/><circle cx="238.05" cy="298.86" r="2.55"/></g>
<g fill="#FAC7B3"><circle cx="248.25" cy="272.76" r="2.55"/><circle cx="248.25" cy="278.57" r="2.55"/><circle cx="248.25" cy="276.35" r="2.55"/><circle cx="248.25" cy="304.91" r="2.55"/><circle cx="248.25" cy="285.08" r="2.55"/><circle cx="248.25" cy="298.90" r="2.55"/><circle cx="248.25" cy="274.73" r="2.55"/><circle cx="248.25" cy="282.93" r="2.55"/><circle cx="248.25" cy="286.81" r="2.55"/><circle cx="248.25" cy="261.38" r="2.55"/><circle cx="248.25" cy="317.01" r="2.55"/><circle cx="248.25" cy="311.87" r="2.55"/><circle cx="248.25" cy="269.98" r="2.55"/><circle cx="248.25" cy="314.98" r="2.55"/><circle cx="248.25" cy="296.46" r="2.55"/><circle cx="248.25" cy="307.08" r="2.55"/><circle cx="248.25" cy="309.57" r="2.55"/><circle cx="248.25" cy="280.98" r="2.55"/><circle cx="248.25" cy="302.59" r="2.55"/><circle cx="248.25" cy="333.89" r="2.55"/><circle cx="248.25" cy="301.53" r="2.55"/><circle cx="248.25" cy="292.85" r="2.55"/><circle cx="248.25" cy="289.41" r="2.55"/><circle cx="248.25" cy="293.57" r="2.55"/></g>
<path d="M237.65 260.10V257.70H248.65V260.10" stroke="#000" stroke-width="1.1" fill="none"/>
<text x="243.15" y="257.50" text-anchor="middle" font-size="8" class="b">***</text>
<path d="M263.40 254.03L273.60 252.88M263.40 260.16L273.60 242.26M263.40 260.90L273.60 243.22M263.40 261.16L273.60 244.97M263.40 261.87L273.60 270.64M263.40 262.23L273.60 251.93M263.40 262.57L273.60 246.36M263.40 262.97L273.60 264.91M263.40 263.47L273.60 285.83M263.40 264.08L273.60 254.21M263.40 264.56L273.60 263.41M263.40 264.81L273.60 280.94M263.40 265.25L273.60 260.82M263.40 265.88L273.60 241.69M263.40 266.37L273.60 306.68M263.40 266.76L273.60 303.87M263.40 267.16L273.60 238.38M263.40 267.76L273.60 259.60M263.40 268.00L273.60 273.95M263.40 268.57L273.60 282.97M263.40 269.09L273.60 276.90M263.40 269.74L273.60 257.35M263.40 270.08L273.60 245.89M263.40 270.63L273.60 269.40M263.40 270.94L273.60 288.31M263.40 271.31L273.60 248.00M263.40 271.78L273.60 248.84M263.40 272.51L273.60 272.20M263.40 272.87L273.60 239.34M263.40 273.19L273.60 267.38M263.40 273.54L273.60 262.32M263.40 274.18L273.60 281.45M263.40 274.71L273.60 259.17M263.40 275.08L273.60 255.36M263.40 275.48L273.60 268.94M263.40 276.09L273.60 276.44M263.40 276.65L273.60 264.16M263.40 276.85L273.60 277.99M263.40 277.24L273.60 292.37M263.40 277.82L273.60 299.97M263.40 278.31L273.60 309.74M263.40 278.87L273.60 266.37M263.40 279.15L273.60 275.39M263.40 279.83L273.60 240.66M263.40 280.27L273.60 314.61M263.40 280.65L273.60 272.53M263.40 281.00L273.60 284.79M263.40 281.74L273.60 294.97M263.40 281.96L273.60 256.98M263.40 282.61L273.60 296.20M263.40 282.85L273.60 287.51M263.40 283.31L273.60 249.93M263.40 283.97L273.60 293.22M263.40 284.26L273.60 312.40M263.40 284.97L273.60 250.98M263.40 285.26L273.60 304.46M263.40 285.61L273.60 297.05M263.40 286.08L273.60 301.27M263.40 286.61L273.60 302.78M263.40 287.17L273.60 313.57M263.40 287.73L273.60 291.32M263.40 287.90L273.60 311.37M263.40 288.45L273.60 290.58M263.40 288.85L273.60 309.30M263.40 289.59L273.60 284.19M263.40 289.74L273.60 298.41M263.40 290.17L273.60 319.44M263.40 290.64L273.60 307.83M263.40 291.22L273.60 298.69M263.40 291.87L273.60 279.10M263.40 299.35L273.60 289.09M263.40 299.60L273.60 305.44" stroke="#000" stroke-width="1.15" fill="none"/>
<g fill="#A9DC85"><circle cx="263.40" cy="254.03" r="2.55"/><circle cx="263.40" cy="260.16" r="2.55"/><circle cx="263.40" cy="260.90" r="2.55"/><circle cx="263.40" cy="261.16" r="2.55"/><circle cx="263.40" cy="261.87" r="2.55"/><circle cx="263.40" cy="262.23" r="2.55"/><circle cx="263.40" cy="262.57" r="2.55"/><circle cx="263.40" cy="262.97" r="2.55"/><circle cx="263.40" cy="263.47" r="2.55"/><circle cx="263.40" cy="264.08" r="2.55"/><circle cx="263.40" cy="264.56" r="2.55"/><circle cx="263.40" cy="264.81" r="2.55"/><circle cx="263.40" cy="265.25" r="2.55"/><circle cx="263.40" cy="265.88" r="2.55"/><circle cx="263.40" cy="266.37" r="2.55"/><circle cx="263.40" cy="266.76" r="2.55"/><circle cx="263.40" cy="267.16" r="2.55"/><circle cx="263.40" cy="267.76" r="2.55"/><circle cx="263.40" cy="268.00" r="2.55"/><circle cx="263.40" cy="268.57" r="2.55"/><circle cx="263.40" cy="269.09" r="2.55"/><circle cx="263.40" cy="269.74" r="2.55"/><circle cx="263.40" cy="270.08" r="2.55"/><circle cx="263.40" cy="270.63" r="2.55"/><circle cx="263.40" cy="270.94" r="2.55"/><circle cx="263.40" cy="271.31" r="2.55"/><circle cx="263.40" cy="271.78" r="2.55"/><circle cx="263.40" cy="272.51" r="2.55"/><circle cx="263.40" cy="272.87" r="2.55"/><circle cx="263.40" cy="273.19" r="2.55"/><circle cx="263.40" cy="273.54" r="2.55"/><circle cx="263.40" cy="274.18" r="2.55"/><circle cx="263.40" cy="274.71" r="2.55"/><circle cx="263.40" cy="275.08" r="2.55"/><circle cx="263.40" cy="275.48" r="2.55"/><circle cx="263.40" cy="276.09" r="2.55"/><circle cx="263.40" cy="276.65" r="2.55"/><circle cx="263.40" cy="276.85" r="2.55"/><circle cx="263.40" cy="277.24" r="2.55"/><circle cx="263.40" cy="277.82" r="2.55"/><circle cx="263.40" cy="278.31" r="2.55"/><circle cx="263.40" cy="278.87" r="2.55"/><circle cx="263.40" cy="279.15" r="2.55"/><circle cx="263.40" cy="279.83" r="2.55"/><circle cx="263.40" cy="280.27" r="2.55"/><circle cx="263.40" cy="280.65" r="2.55"/><circle cx="263.40" cy="281.00" r="2.55"/><circle cx="263.40" cy="281.74" r="2.55"/><circle cx="263.40" cy="281.96" r="2.55"/><circle cx="263.40" cy="282.61" r="2.55"/><circle cx="263.40" cy="282.85" r="2.55"/><circle cx="263.40" cy="283.31" r="2.55"/><circle cx="263.40" cy="283.97" r="2.55"/><circle cx="263.40" cy="284.26" r="2.55"/><circle cx="263.40" cy="284.97" r="2.55"/><circle cx="263.40" cy="285.26" r="2.55"/><circle cx="263.40" cy="285.61" r="2.55"/><circle cx="263.40" cy="286.08" r="2.55"/><circle cx="263.40" cy="286.61" r="2.55"/><circle cx="263.40" cy="287.17" r="2.55"/><circle cx="263.40" cy="287.73" r="2.55"/><circle cx="263.40" cy="287.90" r="2.55"/><circle cx="263.40" cy="288.45" r="2.55"/><circle cx="263.40" cy="288.85" r="2.55"/><circle cx="263.40" cy="289.59" r="2.55"/><circle cx="263.40" cy="289.74" r="2.55"/><circle cx="263.40" cy="290.17" r="2.55"/><circle cx="263.40" cy="290.64" r="2.55"/><circle cx="263.40" cy="291.22" r="2.55"/><circle cx="263.40" cy="291.87" r="2.55"/><circle cx="263.40" cy="299.35" r="2.55"/><circle cx="263.40" cy="299.60" r="2.55"/></g>
<g fill="#FAC7B3"><circle cx="273.60" cy="252.88" r="2.55"/><circle cx="273.60" cy="242.26" r="2.55"/><circle cx="273.60" cy="243.22" r="2.55"/><circle cx="273.60" cy="244.97" r="2.55"/><circle cx="273.60" cy="270.64" r="2.55"/><circle cx="273.60" cy="251.93" r="2.55"/><circle cx="273.60" cy="246.36" r="2.55"/><circle cx="273.60" cy="264.91" r="2.55"/><circle cx="273.60" cy="285.83" r="2.55"/><circle cx="273.60" cy="254.21" r="2.55"/><circle cx="273.60" cy="263.41" r="2.55"/><circle cx="273.60" cy="280.94" r="2.55"/><circle cx="273.60" cy="260.82" r="2.55"/><circle cx="273.60" cy="241.69" r="2.55"/><circle cx="273.60" cy="306.68" r="2.55"/><circle cx="273.60" cy="303.87" r="2.55"/><circle cx="273.60" cy="238.38" r="2.55"/><circle cx="273.60" cy="259.60" r="2.55"/><circle cx="273.60" cy="273.95" r="2.55"/><circle cx="273.60" cy="282.97" r="2.55"/><circle cx="273.60" cy="276.90" r="2.55"/><circle cx="273.60" cy="257.35" r="2.55"/><circle cx="273.60" cy="245.89" r="2.55"/><circle cx="273.60" cy="269.40" r="2.55"/><circle cx="273.60" cy="288.31" r="2.55"/><circle cx="273.60" cy="248.00" r="2.55"/><circle cx="273.60" cy="248.84" r="2.55"/><circle cx="273.60" cy="272.20" r="2.55"/><circle cx="273.60" cy="239.34" r="2.55"/><circle cx="273.60" cy="267.38" r="2.55"/><circle cx="273.60" cy="262.32" r="2.55"/><circle cx="273.60" cy="281.45" r="2.55"/><circle cx="273.60" cy="259.17" r="2.55"/><circle cx="273.60" cy="255.36" r="2.55"/><circle cx="273.60" cy="268.94" r="2.55"/><circle cx="273.60" cy="276.44" r="2.55"/><circle cx="273.60" cy="264.16" r="2.55"/><circle cx="273.60" cy="277.99" r="2.55"/><circle cx="273.60" cy="292.37" r="2.55"/><circle cx="273.60" cy="299.97" r="2.55"/><circle cx="273.60" cy="309.74" r="2.55"/><circle cx="273.60" cy="266.37" r="2.55"/><circle cx="273.60" cy="275.39" r="2.55"/><circle cx="273.60" cy="240.66" r="2.55"/><circle cx="273.60" cy="314.61" r="2.55"/><circle cx="273.60" cy="272.53" r="2.55"/><circle cx="273.60" cy="284.79" r="2.55"/><circle cx="273.60" cy="294.97" r="2.55"/><circle cx="273.60" cy="256.98" r="2.55"/><circle cx="273.60" cy="296.20" r="2.55"/><circle cx="273.60" cy="287.51" r="2.55"/><circle cx="273.60" cy="249.93" r="2.55"/><circle cx="273.60" cy="293.22" r="2.55"/><circle cx="273.60" cy="312.40" r="2.55"/><circle cx="273.60" cy="250.98" r="2.55"/><circle cx="273.60" cy="304.46" r="2.55"/><circle cx="273.60" cy="297.05" r="2.55"/><circle cx="273.60" cy="301.27" r="2.55"/><circle cx="273.60" cy="302.78" r="2.55"/><circle cx="273.60" cy="313.57" r="2.55"/><circle cx="273.60" cy="291.32" r="2.55"/><circle cx="273.60" cy="311.37" r="2.55"/><circle cx="273.60" cy="290.58" r="2.55"/><circle cx="273.60" cy="309.30" r="2.55"/><circle cx="273.60" cy="284.19" r="2.55"/><circle cx="273.60" cy="298.41" r="2.55"/><circle cx="273.60" cy="319.44" r="2.55"/><circle cx="273.60" cy="307.83" r="2.55"/><circle cx="273.60" cy="298.69" r="2.55"/><circle cx="273.60" cy="279.10" r="2.55"/><circle cx="273.60" cy="289.09" r="2.55"/><circle cx="273.60" cy="305.44" r="2.55"/></g>
<path d="M263.00 236.20V233.80H274.00V236.20" stroke="#000" stroke-width="1.1" fill="none"/>
<text x="268.50" y="233.60" text-anchor="middle" font-size="8" class="b">*</text>
<path d="M288.75 261.47L298.95 250.53M288.75 262.37L298.95 276.62M288.75 263.26L298.95 246.66M288.75 264.36L298.95 236.10M288.75 265.25L298.95 267.50M288.75 265.80L298.95 248.24M288.75 266.53L298.95 260.44M288.75 267.60L298.95 229.57M288.75 268.70L298.95 239.10M288.75 269.22L298.95 285.24M288.75 270.16L298.95 282.83M288.75 270.95L298.95 289.09M288.75 272.21L298.95 232.41M288.75 272.90L298.95 272.40M288.75 273.42L298.95 287.04M288.75 274.31L298.95 334.38M288.75 275.37L298.95 240.44M288.75 276.33L298.95 256.86M288.75 277.25L298.95 281.35M288.75 277.73L298.95 306.70M288.75 278.64L298.95 269.95M288.75 279.86L298.95 310.38M288.75 280.52L298.95 255.19M288.75 281.29L298.95 294.45M288.75 282.17L298.95 278.95M288.75 283.47L298.95 295.68M288.75 283.88L298.95 280.06M288.75 284.92L298.95 242.80M288.75 295.43L298.95 311.60M288.75 299.35L298.95 309.15" stroke="#000" stroke-width="1.15" fill="none"/>
<g fill="#A9DC85"><circle cx="288.75" cy="261.47" r="2.55"/><circle cx="288.75" cy="262.37" r="2.55"/><circle cx="288.75" cy="263.26" r="2.55"/><circle cx="288.75" cy="264.36" r="2.55"/><circle cx="288.75" cy="265.25" r="2.55"/><circle cx="288.75" cy="265.80" r="2.55"/><circle cx="288.75" cy="266.53" r="2.55"/><circle cx="288.75" cy="267.60" r="2.55"/><circle cx="288.75" cy="268.70" r="2.55"/><circle cx="288.75" cy="269.22" r="2.55"/><circle cx="288.75" cy="270.16" r="2.55"/><circle cx="288.75" cy="270.95" r="2.55"/><circle cx="288.75" cy="272.21" r="2.55"/><circle cx="288.75" cy="272.90" r="2.55"/><circle cx="288.75" cy="273.42" r="2.55"/><circle cx="288.75" cy="274.31" r="2.55"/><circle cx="288.75" cy="275.37" r="2.55"/><circle cx="288.75" cy="276.33" r="2.55"/><circle cx="288.75" cy="277.25" r="2.55"/><circle cx="288.75" cy="277.73" r="2.55"/><circle cx="288.75" cy="278.64" r="2.55"/><circle cx="288.75" cy="279.86" r="2.55"/><circle cx="288.75" cy="280.52" r="2.55"/><circle cx="288.75" cy="281.29" r="2.55"/><circle cx="288.75" cy="282.17" r="2.55"/><circle cx="288.75" cy="283.47" r="2.55"/><circle cx="288.75" cy="283.88" r="2.55"/><circle cx="288.75" cy="284.92" r="2.55"/><circle cx="288.75" cy="295.43" r="2.55"/><circle cx="288.75" cy="299.35" r="2.55"/></g>
<g fill="#FAC7B3"><circle cx="298.95" cy="250.53" r="2.55"/><circle cx="298.95" cy="276.62" r="2.55"/><circle cx="298.95" cy="246.66" r="2.55"/><circle cx="298.95" cy="236.10" r="2.55"/><circle cx="298.95" cy="267.50" r="2.55"/><circle cx="298.95" cy="248.24" r="2.55"/><circle cx="298.95" cy="260.44" r="2.55"/><circle cx="298.95" cy="229.57" r="2.55"/><circle cx="298.95" cy="239.10" r="2.55"/><circle cx="298.95" cy="285.24" r="2.55"/><circle cx="298.95" cy="282.83" r="2.55"/><circle cx="298.95" cy="289.09" r="2.55"/><circle cx="298.95" cy="232.41" r="2.55"/><circle cx="298.95" cy="272.40" r="2.55"/><circle cx="298.95" cy="287.04" r="2.55"/><circle cx="298.95" cy="334.38" r="2.55"/><circle cx="298.95" cy="240.44" r="2.55"/><circle cx="298.95" cy="256.86" r="2.55"/><circle cx="298.95" cy="281.35" r="2.55"/><circle cx="298.95" cy="306.70" r="2.55"/><circle cx="298.95" cy="269.95" r="2.55"/><circle cx="298.95" cy="310.38" r="2.55"/><circle cx="298.95" cy="255.19" r="2.55"/><circle cx="298.95" cy="294.45" r="2.55"/><circle cx="298.95" cy="278.95" r="2.55"/><circle cx="298.95" cy="295.68" r="2.55"/><circle cx="298.95" cy="280.06" r="2.55"/><circle cx="298.95" cy="242.80" r="2.55"/><circle cx="298.95" cy="311.60" r="2.55"/><circle cx="298.95" cy="309.15" r="2.55"/></g>
<path d="M288.35 226.70V224.30H299.35V226.70" stroke="#000" stroke-width="1.1" fill="none"/>
<text x="293.85" y="222.30" text-anchor="middle" font-size="8.4">ns</text>
<path d="M314.10 295.10L324.30 275.91M314.10 296.12L324.30 288.58M314.10 297.10L324.30 273.88M314.10 297.89L324.30 317.22M314.10 298.60L324.30 283.20M314.10 299.58L324.30 271.00M314.10 300.82L324.30 320.19M314.10 301.83L324.30 279.30M314.10 302.12L324.30 294.65M314.10 303.38L324.30 292.05M314.10 304.41L324.30 286.81M314.10 304.79L324.30 299.31M314.10 306.26L324.30 280.22M314.10 306.64L324.30 260.15M314.10 307.87L324.30 252.80M314.10 308.73L324.30 277.35M314.10 309.68L324.30 284.31M314.10 310.34L324.30 296.89M314.10 311.32L324.30 300.27M314.10 312.33L324.30 318.77M314.10 313.11L324.30 304.09M314.10 314.17L324.30 289.31M314.10 314.91L324.30 294.09M314.10 315.80L324.30 270.36M314.10 316.39L324.30 303.17M314.10 317.71L324.30 326.98M314.10 318.51L324.30 328.44M314.10 319.23L324.30 312.34M314.10 320.50L324.30 313.13M314.10 321.40L324.30 339.34M314.10 322.06L324.30 324.02M314.10 322.76L324.30 337.36M314.10 323.86L324.30 334.92M314.10 324.49L324.30 331.34M314.10 325.40L324.30 344.70M314.10 326.51L324.30 315.04M314.10 327.16L324.30 322.23M314.10 328.31L324.30 306.71M314.10 329.25L324.30 309.90M314.10 329.81L324.30 352.65M314.10 331.12L324.30 353.95M314.10 331.62L324.30 334.07M314.10 332.98L324.30 340.76M314.10 333.90L324.30 348.83M314.10 334.61L324.30 346.56M314.10 335.17L324.30 349.52M314.10 336.39L324.30 307.55M314.10 337.19L324.30 330.58M314.10 342.72L324.30 343.34M314.10 347.37L324.30 355.43" stroke="#000" stroke-width="1.15" fill="none"/>
<g fill="#A9DC85"><circle cx="314.10" cy="295.10" r="2.55"/><circle cx="314.10" cy="296.12" r="2.55"/><circle cx="314.10" cy="297.10" r="2.55"/><circle cx="314.10" cy="297.89" r="2.55"/><circle cx="314.10" cy="298.60" r="2.55"/><circle cx="314.10" cy="299.58" r="2.55"/><circle cx="314.10" cy="300.82" r="2.55"/><circle cx="314.10" cy="301.83" r="2.55"/><circle cx="314.10" cy="302.12" r="2.55"/><circle cx="314.10" cy="303.38" r="2.55"/><circle cx="314.10" cy="304.41" r="2.55"/><circle cx="314.10" cy="304.79" r="2.55"/><circle cx="314.10" cy="306.26" r="2.55"/><circle cx="314.10" cy="306.64" r="2.55"/><circle cx="314.10" cy="307.87" r="2.55"/><circle cx="314.10" cy="308.73" r="2.55"/><circle cx="314.10" cy="309.68" r="2.55"/><circle cx="314.10" cy="310.34" r="2.55"/><circle cx="314.10" cy="311.32" r="2.55"/><circle cx="314.10" cy="312.33" r="2.55"/><circle cx="314.10" cy="313.11" r="2.55"/><circle cx="314.10" cy="314.17" r="2.55"/><circle cx="314.10" cy="314.91" r="2.55"/><circle cx="314.10" cy="315.80" r="2.55"/><circle cx="314.10" cy="316.39" r="2.55"/><circle cx="314.10" cy="317.71" r="2.55"/><circle cx="314.10" cy="318.51" r="2.55"/><circle cx="314.10" cy="319.23" r="2.55"/><circle cx="314.10" cy="320.50" r="2.55"/><circle cx="314.10" cy="321.40" r="2.55"/><circle cx="314.10" cy="322.06" r="2.55"/><circle cx="314.10" cy="322.76" r="2.55"/><circle cx="314.10" cy="323.86" r="2.55"/><circle cx="314.10" cy="324.49" r="2.55"/><circle cx="314.10" cy="325.40" r="2.55"/><circle cx="314.10" cy="326.51" r="2.55"/><circle cx="314.10" cy="327.16" r="2.55"/><circle cx="314.10" cy="328.31" r="2.55"/><circle cx="314.10" cy="329.25" r="2.55"/><circle cx="314.10" cy="329.81" r="2.55"/><circle cx="314.10" cy="331.12" r="2.55"/><circle cx="314.10" cy="331.62" r="2.55"/><circle cx="314.10" cy="332.98" r="2.55"/><circle cx="314.10" cy="333.90" r="2.55"/><circle cx="314.10" cy="334.61" r="2.55"/><circle cx="314.10" cy="335.17" r="2.55"/><circle cx="314.10" cy="336.39" r="2.55"/><circle cx="314.10" cy="337.19" r="2.55"/><circle cx="314.10" cy="342.72" r="2.55"/><circle cx="314.10" cy="347.37" r="2.55"/></g>
<g fill="#FAC7B3"><circle cx="324.30" cy="275.91" r="2.55"/><circle cx="324.30" cy="288.58" r="2.55"/><circle cx="324.30" cy="273.88" r="2.55"/><circle cx="324.30" cy="317.22" r="2.55"/><circle cx="324.30" cy="283.20" r="2.55"/><circle cx="324.30" cy="271.00" r="2.55"/><circle cx="324.30" cy="320.19" r="2.55"/><circle cx="324.30" cy="279.30" r="2.55"/><circle cx="324.30" cy="294.65" r="2.55"/><circle cx="324.30" cy="292.05" r="2.55"/><circle cx="324.30" cy="286.81" r="2.55"/><circle cx="324.30" cy="299.31" r="2.55"/><circle cx="324.30" cy="280.22" r="2.55"/><circle cx="324.30" cy="260.15" r="2.55"/><circle cx="324.30" cy="252.80" r="2.55"/><circle cx="324.30" cy="277.35" r="2.55"/><circle cx="324.30" cy="284.31" r="2.55"/><circle cx="324.30" cy="296.89" r="2.55"/><circle cx="324.30" cy="300.27" r="2.55"/><circle cx="324.30" cy="318.77" r="2.55"/><circle cx="324.30" cy="304.09" r="2.55"/><circle cx="324.30" cy="289.31" r="2.55"/><circle cx="324.30" cy="294.09" r="2.55"/><circle cx="324.30" cy="270.36" r="2.55"/><circle cx="324.30" cy="303.17" r="2.55"/><circle cx="324.30" cy="326.98" r="2.55"/><circle cx="324.30" cy="328.44" r="2.55"/><circle cx="324.30" cy="312.34" r="2.55"/><circle cx="324.30" cy="313.13" r="2.55"/><circle cx="324.30" cy="339.34" r="2.55"/><circle cx="324.30" cy="324.02" r="2.55"/><circle cx="324.30" cy="337.36" r="2.55"/><circle cx="324.30" cy="334.92" r="2.55"/><circle cx="324.30" cy="331.34" r="2.55"/><circle cx="324.30" cy="344.70" r="2.55"/><circle cx="324.30" cy="315.04" r="2.55"/><circle cx="324.30" cy="322.23" r="2.55"/><circle cx="324.30" cy="306.71" r="2.55"/><circle cx="324.30" cy="309.90" r="2.55"/><circle cx="324.30" cy="352.65" r="2.55"/><circle cx="324.30" cy="353.95" r="2.55"/><circle cx="324.30" cy="334.07" r="2.55"/><circle cx="324.30" cy="340.76" r="2.55"/><circle cx="324.30" cy="348.83" r="2.55"/><circle cx="324.30" cy="346.56" r="2.55"/><circle cx="324.30" cy="349.52" r="2.55"/><circle cx="324.30" cy="307.55" r="2.55"/><circle cx="324.30" cy="330.58" r="2.55"/><circle cx="324.30" cy="343.34" r="2.55"/><circle cx="324.30" cy="355.43" r="2.55"/></g>
<path d="M313.70 250.10V247.70H324.70V250.10" stroke="#000" stroke-width="1.1" fill="none"/>
<text x="319.20" y="247.50" text-anchor="middle" font-size="8" class="b">***</text>
<path d="M339.45 274.40L349.65 284.61M339.45 274.92L349.65 264.07M339.45 275.71L349.65 260.15M339.45 276.24L349.65 277.97M339.45 277.12L349.65 279.66M339.45 277.65L349.65 293.12M339.45 278.04L349.65 291.62M339.45 279.00L349.65 290.44M339.45 279.20L349.65 281.06M339.45 280.08L349.65 282.87M339.45 280.65L349.65 307.95M339.45 281.19L349.65 304.80M339.45 281.74L349.65 296.46M339.45 282.73L349.65 288.24M339.45 282.98L349.65 326.64M339.45 283.88L349.65 285.28M339.45 284.71L349.65 307.49M339.45 284.94L349.65 318.10M339.45 285.60L349.65 293.83M339.45 286.44L349.65 312.32M339.45 287.02L349.65 282.07M339.45 287.72L349.65 319.25M339.45 288.44L349.65 303.21M339.45 288.75L349.65 276.79M339.45 289.45L349.65 313.96M339.45 290.08L349.65 289.18M339.45 290.59L349.65 329.53M339.45 291.64L349.65 295.39M339.45 292.22L349.65 302.10M339.45 292.82L349.65 310.32M339.45 293.09L349.65 301.15M339.45 294.15L349.65 312.96M339.45 294.73L349.65 297.81M339.45 295.22L349.65 327.85M339.45 296.00L349.65 309.04M339.45 296.48L349.65 316.27M339.45 297.00L349.65 275.35M339.45 297.57L349.65 331.50M339.45 298.27L349.65 315.06M339.45 298.80L349.65 286.39M339.45 299.59L349.65 322.31M339.45 300.43L349.65 329.12M339.45 301.03L349.65 333.98M339.45 301.74L349.65 298.61M339.45 302.31L349.65 337.91M339.45 302.71L349.65 321.75M339.45 303.49L349.65 341.07M339.45 304.07L349.65 325.00M339.45 304.88L349.65 332.75M339.45 305.37L349.65 320.51M339.45 305.88L349.65 305.48M339.45 306.70L349.65 336.79M339.45 307.50L349.65 334.38M339.45 307.75L349.65 339.90M339.45 308.72L349.65 335.67M339.45 314.30L349.65 324.02M339.45 320.91L349.65 300.09" stroke="#000" stroke-width="1.15" fill="none"/>
<g fill="#A9DC85"><circle cx="339.45" cy="274.40" r="2.55"/><circle cx="339.45" cy="274.92" r="2.55"/><circle cx="339.45" cy="275.71" r="2.55"/><circle cx="339.45" cy="276.24" r="2.55"/><circle cx="339.45" cy="277.12" r="2.55"/><circle cx="339.45" cy="277.65" r="2.55"/><circle cx="339.45" cy="278.04" r="2.55"/><circle cx="339.45" cy="279.00" r="2.55"/><circle cx="339.45" cy="279.20" r="2.55"/><circle cx="339.45" cy="280.08" r="2.55"/><circle cx="339.45" cy="280.65" r="2.55"/><circle cx="339.45" cy="281.19" r="2.55"/><circle cx="339.45" cy="281.74" r="2.55"/><circle cx="339.45" cy="282.73" r="2.55"/><circle cx="339.45" cy="282.98" r="2.55"/><circle cx="339.45" cy="283.88" r="2.55"/><circle cx="339.45" cy="284.71" r="2.55"/><circle cx="339.45" cy="284.94" r="2.55"/><circle cx="339.45" cy="285.60" r="2.55"/><circle cx="339.45" cy="286.44" r="2.55"/><circle cx="339.45" cy="287.02" r="2.55"/><circle cx="339.45" cy="287.72" r="2.55"/><circle cx="339.45" cy="288.44" r="2.55"/><circle cx="339.45" cy="288.75" r="2.55"/><circle cx="339.45" cy="289.45" r="2.55"/><circle cx="339.45" cy="290.08" r="2.55"/><circle cx="339.45" cy="290.59" r="2.55"/><circle cx="339.45" cy="291.64" r="2.55"/><circle cx="339.45" cy="292.22" r="2.55"/><circle cx="339.45" cy="292.82" r="2.55"/><circle cx="339.45" cy="293.09" r="2.55"/><circle cx="339.45" cy="294.15" r="2.55"/><circle cx="339.45" cy="294.73" r="2.55"/><circle cx="339.45" cy="295.22" r="2.55"/><circle cx="339.45" cy="296.00" r="2.55"/><circle cx="339.45" cy="296.48" r="2.55"/><circle cx="339.45" cy="297.00" r="2.55"/><circle cx="339.45" cy="297.57" r="2.55"/><circle cx="339.45" cy="298.27" r="2.55"/><circle cx="339.45" cy="298.80" r="2.55"/><circle cx="339.45" cy="299.59" r="2.55"/><circle cx="339.45" cy="300.43" r="2.55"/><circle cx="339.45" cy="301.03" r="2.55"/><circle cx="339.45" cy="301.74" r="2.55"/><circle cx="339.45" cy="302.31" r="2.55"/><circle cx="339.45" cy="302.71" r="2.55"/><circle cx="339.45" cy="303.49" r="2.55"/><circle cx="339.45" cy="304.07" r="2.55"/><circle cx="339.45" cy="304.88" r="2.55"/><circle cx="339.45" cy="305.37" r="2.55"/><circle cx="339.45" cy="305.88" r="2.55"/><circle cx="339.45" cy="306.70" r="2.55"/><circle cx="339.45" cy="307.50" r="2.55"/><circle cx="339.45" cy="307.75" r="2.55"/><circle cx="339.45" cy="308.72" r="2.55"/><circle cx="339.45" cy="314.30" r="2.55"/><circle cx="339.45" cy="320.91" r="2.55"/></g>
<g fill="#FAC7B3"><circle cx="349.65" cy="284.61" r="2.55"/><circle cx="349.65" cy="264.07" r="2.55"/><circle cx="349.65" cy="260.15" r="2.55"/><circle cx="349.65" cy="277.97" r="2.55"/><circle cx="349.65" cy="279.66" r="2.55"/><circle cx="349.65" cy="293.12" r="2.55"/><circle cx="349.65" cy="291.62" r="2.55"/><circle cx="349.65" cy="290.44" r="2.55"/><circle cx="349.65" cy="281.06" r="2.55"/><circle cx="349.65" cy="282.87" r="2.55"/><circle cx="349.65" cy="307.95" r="2.55"/><circle cx="349.65" cy="304.80" r="2.55"/><circle cx="349.65" cy="296.46" r="2.55"/><circle cx="349.65" cy="288.24" r="2.55"/><circle cx="349.65" cy="326.64" r="2.55"/><circle cx="349.65" cy="285.28" r="2.55"/><circle cx="349.65" cy="307.49" r="2.55"/><circle cx="349.65" cy="318.10" r="2.55"/><circle cx="349.65" cy="293.83" r="2.55"/><circle cx="349.65" cy="312.32" r="2.55"/><circle cx="349.65" cy="282.07" r="2.55"/><circle cx="349.65" cy="319.25" r="2.55"/><circle cx="349.65" cy="303.21" r="2.55"/><circle cx="349.65" cy="276.79" r="2.55"/><circle cx="349.65" cy="313.96" r="2.55"/><circle cx="349.65" cy="289.18" r="2.55"/><circle cx="349.65" cy="329.53" r="2.55"/><circle cx="349.65" cy="295.39" r="2.55"/><circle cx="349.65" cy="302.10" r="2.55"/><circle cx="349.65" cy="310.32" r="2.55"/><circle cx="349.65" cy="301.15" r="2.55"/><circle cx="349.65" cy="312.96" r="2.55"/><circle cx="349.65" cy="297.81" r="2.55"/><circle cx="349.65" cy="327.85" r="2.55"/><circle cx="349.65" cy="309.04" r="2.55"/><circle cx="349.65" cy="316.27" r="2.55"/><circle cx="349.65" cy="275.35" r="2.55"/><circle cx="349.65" cy="331.50" r="2.55"/><circle cx="349.65" cy="315.06" r="2.55"/><circle cx="349.65" cy="286.39" r="2.55"/><circle cx="349.65" cy="322.31" r="2.55"/><circle cx="349.65" cy="329.12" r="2.55"/><circle cx="349.65" cy="333.98" r="2.55"/><circle cx="349.65" cy="298.61" r="2.55"/><circle cx="349.65" cy="337.91" r="2.55"/><circle cx="349.65" cy="321.75" r="2.55"/><circle cx="349.65" cy="341.07" r="2.55"/><circle cx="349.65" cy="325.00" r="2.55"/><circle cx="349.65" cy="332.75" r="2.55"/><circle cx="349.65" cy="320.51" r="2.55"/><circle cx="349.65" cy="305.48" r="2.55"/><circle cx="349.65" cy="336.79" r="2.55"/><circle cx="349.65" cy="334.38" r="2.55"/><circle cx="349.65" cy="339.90" r="2.55"/><circle cx="349.65" cy="335.67" r="2.55"/><circle cx="349.65" cy="324.02" r="2.55"/><circle cx="349.65" cy="300.09" r="2.55"/></g>
<path d="M339.05 257.60V255.20H350.05V257.60" stroke="#000" stroke-width="1.1" fill="none"/>
<text x="344.55" y="255.00" text-anchor="middle" font-size="8" class="b">***</text>
<path d="M364.80 274.51L375.00 287.93M364.80 275.13L375.00 303.72M364.80 275.95L375.00 289.99M364.80 276.74L375.00 316.61M364.80 277.85L375.00 311.46M364.80 278.13L375.00 296.79M364.80 279.43L375.00 291.86M364.80 279.68L375.00 290.37M364.80 280.58L375.00 293.67M364.80 281.41L375.00 318.75M364.80 282.61L375.00 312.37M364.80 283.15L375.00 308.02M364.80 283.86L375.00 300.13M364.80 284.98L375.00 309.06M364.80 285.36L375.00 320.11M364.80 286.29L375.00 287.32M364.80 287.13L375.00 305.30M364.80 288.06L375.00 315.06M364.80 288.85L375.00 295.86M364.80 289.58L375.00 306.90M364.80 290.18L375.00 314.04M364.80 290.96L375.00 297.78M364.80 291.64L375.00 299.43M364.80 292.87L375.00 294.71M364.80 293.55L375.00 302.85M364.80 294.39L375.00 323.43M364.80 294.82L375.00 333.41M364.80 295.79L375.00 325.13M364.80 296.79L375.00 317.99M364.80 297.46L375.00 310.41M364.80 297.97L375.00 327.62M364.80 298.97L375.00 321.50M364.80 300.03L375.00 342.97M364.80 300.41L375.00 328.77M364.80 301.18L375.00 340.98M364.80 302.04L375.00 336.02M364.80 303.08L375.00 330.14M364.80 303.97L375.00 334.49M364.80 304.32L375.00 322.40M364.80 305.12L375.00 342.12M364.80 305.97L375.00 332.37M364.80 306.81L375.00 326.51M364.80 307.72L375.00 336.72M364.80 308.29L375.00 353.99M364.80 309.19L375.00 338.26M364.80 309.89L375.00 301.45M364.80 311.18L375.00 331.19M364.80 316.50L375.00 339.83M364.80 322.13L375.00 344.36" stroke="#000" stroke-width="1.15" fill="none"/>
<g fill="#A9DC85"><circle cx="364.80" cy="274.51" r="2.55"/><circle cx="364.80" cy="275.13" r="2.55"/><circle cx="364.80" cy="275.95" r="2.55"/><circle cx="364.80" cy="276.74" r="2.55"/><circle cx="364.80" cy="277.85" r="2.55"/><circle cx="364.80" cy="278.13" r="2.55"/><circle cx="364.80" cy="279.43" r="2.55"/><circle cx="364.80" cy="279.68" r="2.55"/><circle cx="364.80" cy="280.58" r="2.55"/><circle cx="364.80" cy="281.41" r="2.55"/><circle cx="364.80" cy="282.61" r="2.55"/><circle cx="364.80" cy="283.15" r="2.55"/><circle cx="364.80" cy="283.86" r="2.55"/><circle cx="364.80" cy="284.98" r="2.55"/><circle cx="364.80" cy="285.36" r="2.55"/><circle cx="364.80" cy="286.29" r="2.55"/><circle cx="364.80" cy="287.13" r="2.55"/><circle cx="364.80" cy="288.06" r="2.55"/><circle cx="364.80" cy="288.85" r="2.55"/><circle cx="364.80" cy="289.58" r="2.55"/><circle cx="364.80" cy="290.18" r="2.55"/><circle cx="364.80" cy="290.96" r="2.55"/><circle cx="364.80" cy="291.64" r="2.55"/><circle cx="364.80" cy="292.87" r="2.55"/><circle cx="364.80" cy="293.55" r="2.55"/><circle cx="364.80" cy="294.39" r="2.55"/><circle cx="364.80" cy="294.82" r="2.55"/><circle cx="364.80" cy="295.79" r="2.55"/><circle cx="364.80" cy="296.79" r="2.55"/><circle cx="364.80" cy="297.46" r="2.55"/><circle cx="364.80" cy="297.97" r="2.55"/><circle cx="364.80" cy="298.97" r="2.55"/><circle cx="364.80" cy="300.03" r="2.55"/><circle cx="364.80" cy="300.41" r="2.55"/><circle cx="364.80" cy="301.18" r="2.55"/><circle cx="364.80" cy="302.04" r="2.55"/><circle cx="364.80" cy="303.08" r="2.55"/><circle cx="364.80" cy="303.97" r="2.55"/><circle cx="364.80" cy="304.32" r="2.55"/><circle cx="364.80" cy="305.12" r="2.55"/><circle cx="364.80" cy="305.97" r="2.55"/><circle cx="364.80" cy="306.81" r="2.55"/><circle cx="364.80" cy="307.72" r="2.55"/><circle cx="364.80" cy="308.29" r="2.55"/><circle cx="364.80" cy="309.19" r="2.55"/><circle cx="364.80" cy="309.89" r="2.55"/><circle cx="364.80" cy="311.18" r="2.55"/><circle cx="364.80" cy="316.50" r="2.55"/><circle cx="364.80" cy="322.13" r="2.55"/></g>
<g fill="#FAC7B3"><circle cx="375.00" cy="287.93" r="2.55"/><circle cx="375.00" cy="303.72" r="2.55"/><circle cx="375.00" cy="289.99" r="2.55"/><circle cx="375.00" cy="316.61" r="2.55"/><circle cx="375.00" cy="311.46" r="2.55"/><circle cx="375.00" cy="296.79" r="2.55"/><circle cx="375.00" cy="291.86" r="2.55"/><circle cx="375.00" cy="290.37" r="2.55"/><circle cx="375.00" cy="293.67" r="2.55"/><circle cx="375.00" cy="318.75" r="2.55"/><circle cx="375.00" cy="312.37" r="2.55"/><circle cx="375.00" cy="308.02" r="2.55"/><circle cx="375.00" cy="300.13" r="2.55"/><circle cx="375.00" cy="309.06" r="2.55"/><circle cx="375.00" cy="320.11" r="2.55"/><circle cx="375.00" cy="287.32" r="2.55"/><circle cx="375.00" cy="305.30" r="2.55"/><circle cx="375.00" cy="315.06" r="2.55"/><circle cx="375.00" cy="295.86" r="2.55"/><circle cx="375.00" cy="306.90" r="2.55"/><circle cx="375.00" cy="314.04" r="2.55"/><circle cx="375.00" cy="297.78" r="2.55"/><circle cx="375.00" cy="299.43" r="2.55"/><circle cx="375.00" cy="294.71" r="2.55"/><circle cx="375.00" cy="302.85" r="2.55"/><circle cx="375.00" cy="323.43" r="2.55"/><circle cx="375.00" cy="333.41" r="2.55"/><circle cx="375.00" cy="325.13" r="2.55"/><circle cx="375.00" cy="317.99" r="2.55"/><circle cx="375.00" cy="310.41" r="2.55"/><circle cx="375.00" cy="327.62" r="2.55"/><circle cx="375.00" cy="321.50" r="2.55"/><circle cx="375.00" cy="342.97" r="2.55"/><circle cx="375.00" cy="328.77" r="2.55"/><circle cx="375.00" cy="340.98" r="2.55"/><circle cx="375.00" cy="336.02" r="2.55"/><circle cx="375.00" cy="330.14" r="2.55"/><circle cx="375.00" cy="334.49" r="2.55"/><circle cx="375.00" cy="322.40" r="2.55"/><circle cx="375.00" cy="342.12" r="2.55"/><circle cx="375.00" cy="332.37" r="2.55"/><circle cx="375.00" cy="326.51" r="2.55"/><circle cx="375.00" cy="336.72" r="2.55"/><circle cx="375.00" cy="353.99" r="2.55"/><circle cx="375.00" cy="338.26" r="2.55"/><circle cx="375.00" cy="301.45" r="2.55"/><circle cx="375.00" cy="331.19" r="2.55"/><circle cx="375.00" cy="339.83" r="2.55"/><circle cx="375.00" cy="344.36" r="2.55"/></g>
<path d="M364.40 272.70V270.30H375.40V272.70" stroke="#000" stroke-width="1.1" fill="none"/>
<text x="369.90" y="270.10" text-anchor="middle" font-size="8" class="b">***</text>
<path d="M390.15 280.24L400.35 318.22M390.15 292.49L400.35 346.63M390.15 311.36L400.35 295.43M390.15 317.73L400.35 318.22" stroke="#000" stroke-width="1.15" fill="none"/>
<g fill="#A9DC85"><circle cx="390.15" cy="280.24" r="2.55"/><circle cx="390.15" cy="292.49" r="2.55"/><circle cx="390.15" cy="311.36" r="2.55"/><circle cx="390.15" cy="317.73" r="2.55"/></g>
<g fill="#FAC7B3"><circle cx="400.35" cy="318.22" r="2.55"/><circle cx="400.35" cy="346.63" r="2.55"/><circle cx="400.35" cy="295.43" r="2.55"/><circle cx="400.35" cy="318.22" r="2.55"/></g>
<path d="M389.75 278.40V276.00H400.75V278.40" stroke="#000" stroke-width="1.1" fill="none"/>
<text x="395.25" y="274.00" text-anchor="middle" font-size="8.4">ns</text>
<path d="M415.50 312.09L425.70 305.72M415.50 322.13L425.70 274.85M415.50 327.77L425.70 275.34" stroke="#000" stroke-width="1.15" fill="none"/>
<g fill="#A9DC85"><circle cx="415.50" cy="312.09" r="2.55"/><circle cx="415.50" cy="322.13" r="2.55"/><circle cx="415.50" cy="327.77" r="2.55"/></g>
<g fill="#FAC7B3"><circle cx="425.70" cy="305.72" r="2.55"/><circle cx="425.70" cy="274.85" r="2.55"/><circle cx="425.70" cy="275.34" r="2.55"/></g>
<path d="M415.10 272.70V270.30H426.10V272.70" stroke="#000" stroke-width="1.1" fill="none"/>
<text x="420.60" y="268.30" text-anchor="middle" font-size="8.4">ns</text>
<path d="M440.85 269.11L451.05 273.58M440.85 269.90L451.05 262.60M440.85 271.17L451.05 280.22M440.85 272.03L451.05 286.27M440.85 272.75L451.05 281.15M440.85 273.48L451.05 279.06M440.85 274.38L451.05 272.72M440.85 274.99L451.05 275.22M440.85 276.33L451.05 308.83M440.85 276.75L451.05 276.66M440.85 277.79L451.05 298.06M440.85 278.74L451.05 272.05M440.85 279.58L451.05 287.15M440.85 280.19L451.05 291.25M440.85 280.91L451.05 307.66M440.85 281.92L451.05 276.15M440.85 282.47L451.05 300.39M440.85 283.79L451.05 297.30M440.85 284.30L451.05 283.28M440.85 285.48L451.05 302.72M440.85 285.92L451.05 282.35M440.85 286.83L451.05 284.34M440.85 287.59L451.05 295.28M440.85 288.54L451.05 256.48M440.85 289.22L451.05 295.95M440.85 289.94L451.05 284.84M440.85 291.26L451.05 278.27M440.85 291.80L451.05 292.04M440.85 292.62L451.05 312.28M440.85 293.49L451.05 293.97M440.85 294.45L451.05 319.10M440.85 295.26L451.05 289.12M440.85 296.23L451.05 288.35M440.85 297.09L451.05 319.63M440.85 297.73L451.05 311.98M440.85 298.95L451.05 317.88M440.85 299.73L451.05 293.03M440.85 300.04L451.05 316.80M440.85 301.39L451.05 313.76M440.85 302.29L451.05 315.30M440.85 303.04L451.05 309.47M440.85 303.45L451.05 321.18M440.85 304.75L451.05 304.75M440.85 305.46L451.05 299.36M440.85 305.88L451.05 290.50M440.85 306.72L451.05 347.37M440.85 308.19L451.05 306.56M440.85 308.83L451.05 303.05M440.85 309.39L451.05 305.46M440.85 310.13L451.05 310.52M440.85 311.00L451.05 301.44M440.85 311.90L451.05 314.78" stroke="#000" stroke-width="1.15" fill="none"/>
<g fill="#A9DC85"><circle cx="440.85" cy="269.11" r="2.55"/><circle cx="440.85" cy="269.90" r="2.55"/><circle cx="440.85" cy="271.17" r="2.55"/><circle cx="440.85" cy="272.03" r="2.55"/><circle cx="440.85" cy="272.75" r="2.55"/><circle cx="440.85" cy="273.48" r="2.55"/><circle cx="440.85" cy="274.38" r="2.55"/><circle cx="440.85" cy="274.99" r="2.55"/><circle cx="440.85" cy="276.33" r="2.55"/><circle cx="440.85" cy="276.75" r="2.55"/><circle cx="440.85" cy="277.79" r="2.55"/><circle cx="440.85" cy="278.74" r="2.55"/><circle cx="440.85" cy="279.58" r="2.55"/><circle cx="440.85" cy="280.19" r="2.55"/><circle cx="440.85" cy="280.91" r="2.55"/><circle cx="440.85" cy="281.92" r="2.55"/><circle cx="440.85" cy="282.47" r="2.55"/><circle cx="440.85" cy="283.79" r="2.55"/><circle cx="440.85" cy="284.30" r="2.55"/><circle cx="440.85" cy="285.48" r="2.55"/><circle cx="440.85" cy="285.92" r="2.55"/><circle cx="440.85" cy="286.83" r="2.55"/><circle cx="440.85" cy="287.59" r="2.55"/><circle cx="440.85" cy="288.54" r="2.55"/><circle cx="440.85" cy="289.22" r="2.55"/><circle cx="440.85" cy="289.94" r="2.55"/><circle cx="440.85" cy="291.26" r="2.55"/><circle cx="440.85" cy="291.80" r="2.55"/><circle cx="440.85" cy="292.62" r="2.55"/><circle cx="440.85" cy="293.49" r="2.55"/><circle cx="440.85" cy="294.45" r="2.55"/><circle cx="440.85" cy="295.26" r="2.55"/><circle cx="440.85" cy="296.23" r="2.55"/><circle cx="440.85" cy="297.09" r="2.55"/><circle cx="440.85" cy="297.73" r="2.55"/><circle cx="440.85" cy="298.95" r="2.55"/><circle cx="440.85" cy="299.73" r="2.55"/><circle cx="440.85" cy="300.04" r="2.55"/><circle cx="440.85" cy="301.39" r="2.55"/><circle cx="440.85" cy="302.29" r="2.55"/><circle cx="440.85" cy="303.04" r="2.55"/><circle cx="440.85" cy="303.45" r="2.55"/><circle cx="440.85" cy="304.75" r="2.55"/><circle cx="440.85" cy="305.46" r="2.55"/><circle cx="440.85" cy="305.88" r="2.55"/><circle cx="440.85" cy="306.72" r="2.55"/><circle cx="440.85" cy="308.19" r="2.55"/><circle cx="440.85" cy="308.83" r="2.55"/><circle cx="440.85" cy="309.39" r="2.55"/><circle cx="440.85" cy="310.13" r="2.55"/><circle cx="440.85" cy="311.00" r="2.55"/><circle cx="440.85" cy="311.90" r="2.55"/></g>
<g fill="#FAC7B3"><circle cx="451.05" cy="273.58" r="2.55"/><circle cx="451.05" cy="262.60" r="2.55"/><circle cx="451.05" cy="280.22" r="2.55"/><circle cx="451.05" cy="286.27" r="2.55"/><circle cx="451.05" cy="281.15" r="2.55"/><circle cx="451.05" cy="279.06" r="2.55"/><circle cx="451.05" cy="272.72" r="2.55"/><circle cx="451.05" cy="275.22" r="2.55"/><circle cx="451.05" cy="308.83" r="2.55"/><circle cx="451.05" cy="276.66" r="2.55"/><circle cx="451.05" cy="298.06" r="2.55"/><circle cx="451.05" cy="272.05" r="2.55"/><circle cx="451.05" cy="287.15" r="2.55"/><circle cx="451.05" cy="291.25" r="2.55"/><circle cx="451.05" cy="307.66" r="2.55"/><circle cx="451.05" cy="276.15" r="2.55"/><circle cx="451.05" cy="300.39" r="2.55"/><circle cx="451.05" cy="297.30" r="2.55"/><circle cx="451.05" cy="283.28" r="2.55"/><circle cx="451.05" cy="302.72" r="2.55"/><circle cx="451.05" cy="282.35" r="2.55"/><circle cx="451.05" cy="284.34" r="2.55"/><circle cx="451.05" cy="295.28" r="2.55"/><circle cx="451.05" cy="256.48" r="2.55"/><circle cx="451.05" cy="295.95" r="2.55"/><circle cx="451.05" cy="284.84" r="2.55"/><circle cx="451.05" cy="278.27" r="2.55"/><circle cx="451.05" cy="292.04" r="2.55"/><circle cx="451.05" cy="312.28" r="2.55"/><circle cx="451.05" cy="293.97" r="2.55"/><circle cx="451.05" cy="319.10" r="2.55"/><circle cx="451.05" cy="289.12" r="2.55"/><circle cx="451.05" cy="288.35" r="2.55"/><circle cx="451.05" cy="319.63" r="2.55"/><circle cx="451.05" cy="311.98" r="2.55"/><circle cx="451.05" cy="317.88" r="2.55"/><circle cx="451.05" cy="293.03" r="2.55"/><circle cx="451.05" cy="316.80" r="2.55"/><circle cx="451.05" cy="313.76" r="2.55"/><circle cx="451.05" cy="315.30" r="2.55"/><circle cx="451.05" cy="309.47" r="2.55"/><circle cx="451.05" cy="321.18" r="2.55"/><circle cx="451.05" cy="304.75" r="2.55"/><circle cx="451.05" cy="299.36" r="2.55"/><circle cx="451.05" cy="290.50" r="2.55"/><circle cx="451.05" cy="347.37" r="2.55"/><circle cx="451.05" cy="306.56" r="2.55"/><circle cx="451.05" cy="303.05" r="2.55"/><circle cx="451.05" cy="305.46" r="2.55"/><circle cx="451.05" cy="310.52" r="2.55"/><circle cx="451.05" cy="301.44" r="2.55"/><circle cx="451.05" cy="314.78" r="2.55"/></g>
<path d="M440.45 254.60V252.20H451.45V254.60" stroke="#000" stroke-width="1.1" fill="none"/>
<text x="445.95" y="250.20" text-anchor="middle" font-size="8.4">ns</text>
<path d="M466.20 289.55L476.40 276.56M466.20 291.26L476.40 315.27M466.20 301.31L476.40 297.88M466.20 304.25L476.40 299.35M466.20 306.70L476.40 327.28M466.20 307.68L476.40 301.80M466.20 327.04L476.40 327.28M466.20 290.77L476.40 300.58M466.20 311.60L476.40 314.05" stroke="#000" stroke-width="1.15" fill="none"/>
<g fill="#A9DC85"><circle cx="466.20" cy="289.55" r="2.55"/><circle cx="466.20" cy="291.26" r="2.55"/><circle cx="466.20" cy="301.31" r="2.55"/><circle cx="466.20" cy="304.25" r="2.55"/><circle cx="466.20" cy="306.70" r="2.55"/><circle cx="466.20" cy="307.68" r="2.55"/><circle cx="466.20" cy="327.04" r="2.55"/><circle cx="466.20" cy="290.77" r="2.55"/><circle cx="466.20" cy="311.60" r="2.55"/></g>
<g fill="#FAC7B3"><circle cx="476.40" cy="276.56" r="2.55"/><circle cx="476.40" cy="315.27" r="2.55"/><circle cx="476.40" cy="297.88" r="2.55"/><circle cx="476.40" cy="299.35" r="2.55"/><circle cx="476.40" cy="327.28" r="2.55"/><circle cx="476.40" cy="301.80" r="2.55"/><circle cx="476.40" cy="327.28" r="2.55"/><circle cx="476.40" cy="300.58" r="2.55"/><circle cx="476.40" cy="314.05" r="2.55"/></g>
<path d="M465.80 275.20V272.80H476.80V275.20" stroke="#000" stroke-width="1.1" fill="none"/>
<text x="471.30" y="270.80" text-anchor="middle" font-size="8.4">ns</text>
<path d="M491.55 292.98L501.75 287.10M491.55 325.08L501.75 311.85" stroke="#000" stroke-width="1.15" fill="none"/>
<g fill="#A9DC85"><circle cx="491.55" cy="292.98" r="2.55"/><circle cx="491.55" cy="325.08" r="2.55"/></g>
<g fill="#FAC7B3"><circle cx="501.75" cy="287.10" r="2.55"/><circle cx="501.75" cy="311.85" r="2.55"/></g>
<path d="M516.90 301.31L527.10 292.00" stroke="#000" stroke-width="1.15" fill="none"/>
<g fill="#A9DC85"><circle cx="516.90" cy="301.31" r="2.55"/></g>
<g fill="#FAC7B3"><circle cx="527.10" cy="292.00" r="2.55"/></g>
<path d="M542.25 276.18L552.45 276.09M542.25 277.49L552.45 260.15M542.25 279.45L552.45 288.14M542.25 280.20L552.45 279.73M542.25 281.87L552.45 317.24M542.25 283.27L552.45 283.35M542.25 285.77L552.45 282.16M542.25 287.53L552.45 305.59M542.25 288.78L552.45 289.55M542.25 289.99L552.45 297.05M542.25 292.14L552.45 285.61M542.25 293.67L552.45 280.67M542.25 294.96L552.45 312.57M542.25 296.16L552.45 307.79M542.25 297.79L552.45 315.82M542.25 299.51L552.45 293.54M542.25 300.96L552.45 300.72M542.25 302.68L552.45 286.64M542.25 304.52L552.45 310.08M542.25 306.46L552.45 278.10M542.25 306.93L552.45 308.68M542.25 309.16L552.45 314.07M542.25 310.07L552.45 320.27M542.25 311.74L552.45 294.41M542.25 314.19L552.45 318.00M542.25 315.47L552.45 297.52M542.25 317.48L552.45 300.08M542.25 318.46L552.45 291.11M542.25 319.49L552.45 321.94M542.25 321.54L552.45 330.71M542.25 333.89L552.45 304.62M542.25 339.04L552.45 302.16" stroke="#000" stroke-width="1.15" fill="none"/>
<g fill="#A9DC85"><circle cx="542.25" cy="276.18" r="2.55"/><circle cx="542.25" cy="277.49" r="2.55"/><circle cx="542.25" cy="279.45" r="2.55"/><circle cx="542.25" cy="280.20" r="2.55"/><circle cx="542.25" cy="281.87" r="2.55"/><circle cx="542.25" cy="283.27" r="2.55"/><circle cx="542.25" cy="285.77" r="2.55"/><circle cx="542.25" cy="287.53" r="2.55"/><circle cx="542.25" cy="288.78" r="2.55"/><circle cx="542.25" cy="289.99" r="2.55"/><circle cx="542.25" cy="292.14" r="2.55"/><circle cx="542.25" cy="293.67" r="2.55"/><circle cx="542.25" cy="294.96" r="2.55"/><circle cx="542.25" cy="296.16" r="2.55"/><circle cx="542.25" cy="297.79" r="2.55"/><circle cx="542.25" cy="299.51" r="2.55"/><circle cx="542.25" cy="300.96" r="2.55"/><circle cx="542.25" cy="302.68" r="2.55"/><circle cx="542.25" cy="304.52" r="2.55"/><circle cx="542.25" cy="306.46" r="2.55"/><circle cx="542.25" cy="306.93" r="2.55"/><circle cx="542.25" cy="309.16" r="2.55"/><circle cx="542.25" cy="310.07" r="2.55"/><circle cx="542.25" cy="311.74" r="2.55"/><circle cx="542.25" cy="314.19" r="2.55"/><circle cx="542.25" cy="315.47" r="2.55"/><circle cx="542.25" cy="317.48" r="2.55"/><circle cx="542.25" cy="318.46" r="2.55"/><circle cx="542.25" cy="319.49" r="2.55"/><circle cx="542.25" cy="321.54" r="2.55"/><circle cx="542.25" cy="333.89" r="2.55"/><circle cx="542.25" cy="339.04" r="2.55"/></g>
<g fill="#FAC7B3"><circle cx="552.45" cy="276.09" r="2.55"/><circle cx="552.45" cy="260.15" r="2.55"/><circle cx="552.45" cy="288.14" r="2.55"/><circle cx="552.45" cy="279.73" r="2.55"/><circle cx="552.45" cy="317.24" r="2.55"/><circle cx="552.45" cy="283.35" r="2.55"/><circle cx="552.45" cy="282.16" r="2.55"/><circle cx="552.45" cy="305.59" r="2.55"/><circle cx="552.45" cy="289.55" r="2.55"/><circle cx="552.45" cy="297.05" r="2.55"/><circle cx="552.45" cy="285.61" r="2.55"/><circle cx="552.45" cy="280.67" r="2.55"/><circle cx="552.45" cy="312.57" r="2.55"/><circle cx="552.45" cy="307.79" r="2.55"/><circle cx="552.45" cy="315.82" r="2.55"/><circle cx="552.45" cy="293.54" r="2.55"/><circle cx="552.45" cy="300.72" r="2.55"/><circle cx="552.45" cy="286.64" r="2.55"/><circle cx="552.45" cy="310.08" r="2.55"/><circle cx="552.45" cy="278.10" r="2.55"/><circle cx="552.45" cy="308.68" r="2.55"/><circle cx="552.45" cy="314.07" r="2.55"/><circle cx="552.45" cy="320.27" r="2.55"/><circle cx="552.45" cy="294.41" r="2.55"/><circle cx="552.45" cy="318.00" r="2.55"/><circle cx="552.45" cy="297.52" r="2.55"/><circle cx="552.45" cy="300.08" r="2.55"/><circle cx="552.45" cy="291.11" r="2.55"/><circle cx="552.45" cy="321.94" r="2.55"/><circle cx="552.45" cy="330.71" r="2.55"/><circle cx="552.45" cy="304.62" r="2.55"/><circle cx="552.45" cy="302.16" r="2.55"/></g>
<path d="M541.85 257.60V255.20H552.85V257.60" stroke="#000" stroke-width="1.1" fill="none"/>
<text x="547.35" y="253.20" text-anchor="middle" font-size="8.4">ns</text>
<path d="M567.60 238.10L577.80 255.44M567.60 245.24L577.80 259.85M567.60 246.57L577.80 276.63M567.60 247.17L577.80 244.72M567.60 248.01L577.80 226.34M567.60 248.48L577.80 256.51M567.60 249.41L577.80 252.52M567.60 250.41L577.80 257.56M567.60 251.08L577.80 263.18M567.60 251.71L577.80 303.60M567.60 252.30L577.80 259.07M567.60 253.14L577.80 263.93M567.60 254.18L577.80 269.68M567.60 254.64L577.80 264.91M567.60 255.59L577.80 281.35M567.60 256.31L577.80 294.77M567.60 257.26L577.80 254.71M567.60 257.97L577.80 271.40M567.60 258.41L577.80 267.32M567.60 259.01L577.80 273.70M567.60 259.93L577.80 253.55M567.60 260.80L577.80 251.77M567.60 261.67L577.80 249.37M567.60 262.57L577.80 282.16M567.60 263.38L577.80 275.55M567.60 263.63L577.80 274.91M567.60 264.89L577.80 250.71M567.60 265.64L577.80 270.88M567.60 266.44L577.80 266.79M567.60 267.03L577.80 261.09M567.60 267.61L577.80 262.02M567.60 268.73L577.80 292.75M567.60 269.47L577.80 290.49M567.60 270.16L577.80 280.21M567.60 271.07L577.80 291.70M567.60 271.49L577.80 272.85M567.60 272.09L577.80 286.85M567.60 273.15L577.80 289.15M567.60 274.06L577.80 293.73M567.60 274.46L577.80 287.96M567.60 275.57L577.80 285.94M567.60 276.45L577.80 289.61M567.60 276.79L577.80 278.51M567.60 277.78L577.80 315.27M567.60 278.59L577.80 297.60M567.60 279.23L577.80 296.27M567.60 279.84L577.80 329.49M567.60 280.63L577.80 304.42M567.60 281.70L577.80 268.16M567.60 282.50L577.80 299.80M567.60 283.06L577.80 300.83M567.60 283.60L577.80 321.40M567.60 284.80L577.80 306.21M567.60 285.55L577.80 302.70M567.60 285.99L577.80 279.47M567.60 292.98L577.80 284.43M567.60 318.95L577.80 298.32M567.60 321.40L577.80 301.18M567.60 337.32L577.80 283.66" stroke="#000" stroke-width="1.15" fill="none"/>
<g fill="#A9DC85"><circle cx="567.60" cy="238.10" r="2.55"/><circle cx="567.60" cy="245.24" r="2.55"/><circle cx="567.60" cy="246.57" r="2.55"/><circle cx="567.60" cy="247.17" r="2.55"/><circle cx="567.60" cy="248.01" r="2.55"/><circle cx="567.60" cy="248.48" r="2.55"/><circle cx="567.60" cy="249.41" r="2.55"/><circle cx="567.60" cy="250.41" r="2.55"/><circle cx="567.60" cy="251.08" r="2.55"/><circle cx="567.60" cy="251.71" r="2.55"/><circle cx="567.60" cy="252.30" r="2.55"/><circle cx="567.60" cy="253.14" r="2.55"/><circle cx="567.60" cy="254.18" r="2.55"/><circle cx="567.60" cy="254.64" r="2.55"/><circle cx="567.60" cy="255.59" r="2.55"/><circle cx="567.60" cy="256.31" r="2.55"/><circle cx="567.60" cy="257.26" r="2.55"/><circle cx="567.60" cy="257.97" r="2.55"/><circle cx="567.60" cy="258.41" r="2.55"/><circle cx="567.60" cy="259.01" r="2.55"/><circle cx="567.60" cy="259.93" r="2.55"/><circle cx="567.60" cy="260.80" r="2.55"/><circle cx="567.60" cy="261.67" r="2.55"/><circle cx="567.60" cy="262.57" r="2.55"/><circle cx="567.60" cy="263.38" r="2.55"/><circle cx="567.60" cy="263.63" r="2.55"/><circle cx="567.60" cy="264.89" r="2.55"/><circle cx="567.60" cy="265.64" r="2.55"/><circle cx="567.60" cy="266.44" r="2.55"/><circle cx="567.60" cy="267.03" r="2.55"/><circle cx="567.60" cy="267.61" r="2.55"/><circle cx="567.60" cy="268.73" r="2.55"/><circle cx="567.60" cy="269.47" r="2.55"/><circle cx="567.60" cy="270.16" r="2.55"/><circle cx="567.60" cy="271.07" r="2.55"/><circle cx="567.60" cy="271.49" r="2.55"/><circle cx="567.60" cy="272.09" r="2.55"/><circle cx="567.60" cy="273.15" r="2.55"/><circle cx="567.60" cy="274.06" r="2.55"/><circle cx="567.60" cy="274.46" r="2.55"/><circle cx="567.60" cy="275.57" r="2.55"/><circle cx="567.60" cy="276.45" r="2.55"/><circle cx="567.60" cy="276.79" r="2.55"/><circle cx="567.60" cy="277.78" r="2.55"/><circle cx="567.60" cy="278.59" r="2.55"/><circle cx="567.60" cy="279.23" r="2.55"/><circle cx="567.60" cy="279.84" r="2.55"/><circle cx="567.60" cy="280.63" r="2.55"/><circle cx="567.60" cy="281.70" r="2.55"/><circle cx="567.60" cy="282.50" r="2.55"/><circle cx="567.60" cy="283.06" r="2.55"/><circle cx="567.60" cy="283.60" r="2.55"/><circle cx="567.60" cy="284.80" r="2.55"/><circle cx="567.60" cy="285.55" r="2.55"/><circle cx="567.60" cy="285.99" r="2.55"/><circle cx="567.60" cy="292.98" r="2.55"/><circle cx="567.60" cy="318.95" r="2.55"/><circle cx="567.60" cy="321.40" r="2.55"/><circle cx="567.60" cy="337.32" r="2.55"/></g>
<g fill="#FAC7B3"><circle cx="577.80" cy="255.44" r="2.55"/><circle cx="577.80" cy="259.85" r="2.55"/><circle cx="577.80" cy="276.63" r="2.55"/><circle cx="577.80" cy="244.72" r="2.55"/><circle cx="577.80" cy="226.34" r="2.55"/><circle cx="577.80" cy="256.51" r="2.55"/><circle cx="577.80" cy="252.52" r="2.55"/><circle cx="577.80" cy="257.56" r="2.55"/><circle cx="577.80" cy="263.18" r="2.55"/><circle cx="577.80" cy="303.60" r="2.55"/><circle cx="577.80" cy="259.07" r="2.55"/><circle cx="577.80" cy="263.93" r="2.55"/><circle cx="577.80" cy="269.68" r="2.55"/><circle cx="577.80" cy="264.91" r="2.55"/><circle cx="577.80" cy="281.35" r="2.55"/><circle cx="577.80" cy="294.77" r="2.55"/><circle cx="577.80" cy="254.71" r="2.55"/><circle cx="577.80" cy="271.40" r="2.55"/><circle cx="577.80" cy="267.32" r="2.55"/><circle cx="577.80" cy="273.70" r="2.55"/><circle cx="577.80" cy="253.55" r="2.55"/><circle cx="577.80" cy="251.77" r="2.55"/><circle cx="577.80" cy="249.37" r="2.55"/><circle cx="577.80" cy="282.16" r="2.55"/><circle cx="577.80" cy="275.55" r="2.55"/><circle cx="577.80" cy="274.91" r="2.55"/><circle cx="577.80" cy="250.71" r="2.55"/><circle cx="577.80" cy="270.88" r="2.55"/><circle cx="577.80" cy="266.79" r="2.55"/><circle cx="577.80" cy="261.09" r="2.55"/><circle cx="577.80" cy="262.02" r="2.55"/><circle cx="577.80" cy="292.75" r="2.55"/><circle cx="577.80" cy="290.49" r="2.55"/><circle cx="577.80" cy="280.21" r="2.55"/><circle cx="577.80" cy="291.70" r="2.55"/><circle cx="577.80" cy="272.85" r="2.55"/><circle cx="577.80" cy="286.85" r="2.55"/><circle cx="577.80" cy="289.15" r="2.55"/><circle cx="577.80" cy="293.73" r="2.55"/><circle cx="577.80" cy="287.96" r="2.55"/><circle cx="577.80" cy="285.94" r="2.55"/><circle cx="577.80" cy="289.61" r="2.55"/><circle cx="577.80" cy="278.51" r="2.55"/><circle cx="577.80" cy="315.27" r="2.55"/><circle cx="577.80" cy="297.60" r="2.55"/><circle cx="577.80" cy="296.27" r="2.55"/><circle cx="577.80" cy="329.49" r="2.55"/><circle cx="577.80" cy="304.42" r="2.55"/><circle cx="577.80" cy="268.16" r="2.55"/><circle cx="577.80" cy="299.80" r="2.55"/><circle cx="577.80" cy="300.83" r="2.55"/><circle cx="577.80" cy="321.40" r="2.55"/><circle cx="577.80" cy="306.21" r="2.55"/><circle cx="577.80" cy="302.70" r="2.55"/><circle cx="577.80" cy="279.47" r="2.55"/><circle cx="577.80" cy="284.43" r="2.55"/><circle cx="577.80" cy="298.32" r="2.55"/><circle cx="577.80" cy="301.18" r="2.55"/><circle cx="577.80" cy="283.66" r="2.55"/></g>
<path d="M567.20 224.20V221.80H578.20V224.20" stroke="#000" stroke-width="1.1" fill="none"/>
<text x="572.70" y="221.60" text-anchor="middle" font-size="8" class="b">***</text>
<path d="M592.95 281.47L603.15 292.25M592.95 305.97L603.15 307.19" stroke="#000" stroke-width="1.15" fill="none"/>
<g fill="#A9DC85"><circle cx="592.95" cy="281.47" r="2.55"/><circle cx="592.95" cy="305.97" r="2.55"/></g>
<g fill="#FAC7B3"><circle cx="603.15" cy="292.25" r="2.55"/><circle cx="603.15" cy="307.19" r="2.55"/></g>
<path d="M618.30 260.15L628.50 238.83M618.30 264.64L628.50 286.25M618.30 265.33L628.50 279.76M618.30 266.53L628.50 261.38M618.30 267.52L628.50 239.84M618.30 269.24L628.50 329.00M618.30 270.23L628.50 302.54M618.30 270.99L628.50 255.25M618.30 272.78L628.50 241.77M618.30 273.36L628.50 277.82M618.30 274.63L628.50 307.19M618.30 275.53L628.50 274.51M618.30 276.76L628.50 248.88M618.30 278.41L628.50 276.18M618.30 279.08L628.50 237.53M618.30 280.07L628.50 299.35M618.30 281.49L628.50 282.33M618.30 282.46L628.50 313.31M618.30 284.13L628.50 285.67M618.30 284.54L628.50 292.00M618.30 286.46L628.50 284.06" stroke="#000" stroke-width="1.15" fill="none"/>
<g fill="#A9DC85"><circle cx="618.30" cy="260.15" r="2.55"/><circle cx="618.30" cy="264.64" r="2.55"/><circle cx="618.30" cy="265.33" r="2.55"/><circle cx="618.30" cy="266.53" r="2.55"/><circle cx="618.30" cy="267.52" r="2.55"/><circle cx="618.30" cy="269.24" r="2.55"/><circle cx="618.30" cy="270.23" r="2.55"/><circle cx="618.30" cy="270.99" r="2.55"/><circle cx="618.30" cy="272.78" r="2.55"/><circle cx="618.30" cy="273.36" r="2.55"/><circle cx="618.30" cy="274.63" r="2.55"/><circle cx="618.30" cy="275.53" r="2.55"/><circle cx="618.30" cy="276.76" r="2.55"/><circle cx="618.30" cy="278.41" r="2.55"/><circle cx="618.30" cy="279.08" r="2.55"/><circle cx="618.30" cy="280.07" r="2.55"/><circle cx="618.30" cy="281.49" r="2.55"/><circle cx="618.30" cy="282.46" r="2.55"/><circle cx="618.30" cy="284.13" r="2.55"/><circle cx="618.30" cy="284.54" r="2.55"/><circle cx="618.30" cy="286.46" r="2.55"/></g>
<g fill="#FAC7B3"><circle cx="628.50" cy="238.83" r="2.55"/><circle cx="628.50" cy="286.25" r="2.55"/><circle cx="628.50" cy="279.76" r="2.55"/><circle cx="628.50" cy="261.38" r="2.55"/><circle cx="628.50" cy="239.84" r="2.55"/><circle cx="628.50" cy="329.00" r="2.55"/><circle cx="628.50" cy="302.54" r="2.55"/><circle cx="628.50" cy="255.25" r="2.55"/><circle cx="628.50" cy="241.77" r="2.55"/><circle cx="628.50" cy="277.82" r="2.55"/><circle cx="628.50" cy="307.19" r="2.55"/><circle cx="628.50" cy="274.51" r="2.55"/><circle cx="628.50" cy="248.88" r="2.55"/><circle cx="628.50" cy="276.18" r="2.55"/><circle cx="628.50" cy="237.53" r="2.55"/><circle cx="628.50" cy="299.35" r="2.55"/><circle cx="628.50" cy="282.33" r="2.55"/><circle cx="628.50" cy="313.31" r="2.55"/><circle cx="628.50" cy="285.67" r="2.55"/><circle cx="628.50" cy="292.00" r="2.55"/><circle cx="628.50" cy="284.06" r="2.55"/></g>
<path d="M617.90 234.50V232.10H628.90V234.50" stroke="#000" stroke-width="1.1" fill="none"/>
<text x="623.40" y="230.10" text-anchor="middle" font-size="8.4">ns</text>
<path d="M50.6 212V375.4H638.7" stroke="#000" stroke-width="1" fill="none"/>
<path d="M46.5 326.30H50.6" stroke="#000" stroke-width="1"/>
<text x="43.3" y="329.80" text-anchor="end" font-size="9">2</text>
<path d="M46.5 277.30H50.6" stroke="#000" stroke-width="1"/>
<text x="43.3" y="280.80" text-anchor="end" font-size="9">4</text>
<path d="M46.5 228.30H50.6" stroke="#000" stroke-width="1"/>
<text x="43.3" y="231.80" text-anchor="end" font-size="9">6</text>
<path d="M65.70 375.4V379.4" stroke="#000" stroke-width="1"/>
<text transform="translate(66.50,381.90) rotate(-45)" text-anchor="end" font-size="9.1" dy="6.5">BLCA</text>
<path d="M91.05 375.4V379.4" stroke="#000" stroke-width="1"/>
<text transform="translate(91.85,381.90) rotate(-45)" text-anchor="end" font-size="9.1" dy="6.5">BRCA</text>
<path d="M116.40 375.4V379.4" stroke="#000" stroke-width="1"/>
<text transform="translate(117.20,381.90) rotate(-45)" text-anchor="end" font-size="9.1" dy="6.5">CESC</text>
<path d="M141.75 375.4V379.4" stroke="#000" stroke-width="1"/>
<text transform="translate(142.55,381.90) rotate(-45)" text-anchor="end" font-size="9.1" dy="6.5">CHOL</text>
<path d="M167.10 375.4V379.4" stroke="#000" stroke-width="1"/>
<text transform="translate(167.90,381.90) rotate(-45)" text-anchor="end" font-size="9.1" dy="6.5">COAD</text>
<path d="M192.45 375.4V379.4" stroke="#000" stroke-width="1"/>
<text transform="translate(193.25,381.90) rotate(-45)" text-anchor="end" font-size="9.1" dy="6.5">ESCA</text>
<path d="M217.80 375.4V379.4" stroke="#000" stroke-width="1"/>
<text transform="translate(218.60,381.90) rotate(-45)" text-anchor="end" font-size="9.1" dy="6.5">HNSC</text>
<path d="M243.15 375.4V379.4" stroke="#000" stroke-width="1"/>
<text transform="translate(243.95,381.90) rotate(-45)" text-anchor="end" font-size="9.1" dy="6.5">KICH</text>
<path d="M268.50 375.4V379.4" stroke="#000" stroke-width="1"/>
<text transform="translate(269.30,381.90) rotate(-45)" text-anchor="end" font-size="9.1" dy="6.5">KIRC</text>
<path d="M293.85 375.4V379.4" stroke="#000" stroke-width="1"/>
<text transform="translate(294.65,381.90) rotate(-45)" text-anchor="end" font-size="9.1" dy="6.5">KIRP</text>
<path d="M319.20 375.4V379.4" stroke="#000" stroke-width="1"/>
<text transform="translate(320.00,381.90) rotate(-45)" text-anchor="end" font-size="9.1" dy="6.5">LIHC</text>
<path d="M344.55 375.4V379.4" stroke="#000" stroke-width="1"/>
<text transform="translate(345.35,381.90) rotate(-45)" text-anchor="end" font-size="9.1" dy="6.5">LUAD</text>
<path d="M369.90 375.4V379.4" stroke="#000" stroke-width="1"/>
<text transform="translate(370.70,381.90) rotate(-45)" text-anchor="end" font-size="9.1" dy="6.5">LUSC</text>
<path d="M395.25 375.4V379.4" stroke="#000" stroke-width="1"/>
<text transform="translate(396.05,381.90) rotate(-45)" text-anchor="end" font-size="9.1" dy="6.5">PAAD</text>
<path d="M420.60 375.4V379.4" stroke="#000" stroke-width="1"/>
<text transform="translate(421.40,381.90) rotate(-45)" text-anchor="end" font-size="9.1" dy="6.5">PCPG</text>
<path d="M445.95 375.4V379.4" stroke="#000" stroke-width="1"/>
<text transform="translate(446.75,381.90) rotate(-45)" text-anchor="end" font-size="9.1" dy="6.5">PRAD</text>
<path d="M471.30 375.4V379.4" stroke="#000" stroke-width="1"/>
<text transform="translate(472.10,381.90) rotate(-45)" text-anchor="end" font-size="9.1" dy="6.5">READ</text>
<path d="M496.65 375.4V379.4" stroke="#000" stroke-width="1"/>
<text transform="translate(497.45,381.90) rotate(-45)" text-anchor="end" font-size="9.1" dy="6.5">SARC</text>
<path d="M522.00 375.4V379.4" stroke="#000" stroke-width="1"/>
<text transform="translate(522.80,381.90) rotate(-45)" text-anchor="end" font-size="9.1" dy="6.5">SKCM</text>
<path d="M547.35 375.4V379.4" stroke="#000" stroke-width="1"/>
<text transform="translate(548.15,381.90) rotate(-45)" text-anchor="end" font-size="9.1" dy="6.5">STAD</text>
<path d="M572.70 375.4V379.4" stroke="#000" stroke-width="1"/>
<text transform="translate(573.50,381.90) rotate(-45)" text-anchor="end" font-size="9.1" dy="6.5">THCA</text>
<path d="M598.05 375.4V379.4" stroke="#000" stroke-width="1"/>
<text transform="translate(598.85,381.90) rotate(-45)" text-anchor="end" font-size="9.1" dy="6.5">THYM</text>
<path d="M623.40 375.4V379.4" stroke="#000" stroke-width="1"/>
<text transform="translate(624.20,381.90) rotate(-45)" text-anchor="end" font-size="9.1" dy="6.5">UCEC</text>
<text transform="translate(17.6,293.7) rotate(-90) scale(1,1.1)" text-anchor="middle" font-size="9.95">The expression of ZBED3</text>
<text transform="translate(27.0,294) rotate(-90) scale(1,1.1)" text-anchor="middle" font-size="9.95">Log<tspan font-size="6.9" dy="2">2</tspan><tspan dy="-2"> (TPM+1)</tspan></text>
<circle cx="648.3" cy="290.3" r="2.55" fill="#A9DC85"/><circle cx="648.3" cy="300.5" r="2.55" fill="#FAC7B3"/>
<text x="657.7" y="293.3" font-size="8.5">Normal</text>
<text x="657.7" y="303.5" font-size="8.5">Tumor</text>
<text x="1.6" y="215.6" font-size="18.5">B</text>
</g>
</svg>
</body></html>
